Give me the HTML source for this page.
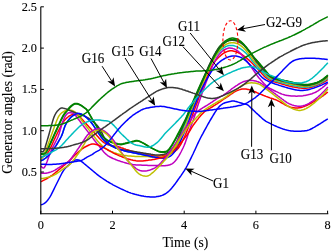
<!DOCTYPE html>
<html><head><meta charset="utf-8"><title>Generator angles</title>
<style>
html,body{margin:0;padding:0;background:#fff;}
body{width:332px;height:251px;overflow:hidden;}
svg{display:block;}
svg text{font-family:"Liberation Serif","DejaVu Serif",serif;font-size:12.3px;fill:#000;stroke:#000;stroke-width:0.1px;}
</style></head><body>
<svg width="332" height="251" viewBox="0 0 332 251">
<rect width="332" height="251" fill="#fff"/>
<g id="curves">
<path d="M41.0 204.7 L42.0 204.5 L43.0 204.1 L44.0 203.6 L45.0 202.9 L46.0 202.1 L47.0 201.0 L48.0 199.8 L49.0 198.4 L50.0 196.9 L51.0 195.2 L52.0 193.2 L53.0 191.1 L54.0 189.1 L55.0 187.0 L56.0 185.0 L57.0 183.0 L58.0 181.0 L59.0 179.0 L60.0 177.0 L61.0 175.0 L62.0 173.0 L63.0 171.3 L64.0 169.8 L65.0 168.6 L66.0 167.5 L67.0 166.6 L68.0 165.6 L69.0 164.7 L70.0 163.8 L71.0 162.9 L72.0 162.1 L73.0 161.3 L74.0 160.6 L75.0 160.1 L76.0 159.9 L77.0 159.8 L78.0 159.9 L79.0 160.1 L80.0 160.5 L81.0 161.1 L82.0 161.8 L83.0 162.6 L84.0 163.5 L85.0 164.3 L86.0 165.2 L87.0 166.0 L88.0 166.8 L89.0 167.7 L90.0 168.5 L91.0 169.3 L92.0 170.2 L93.0 171.0 L94.0 171.8 L95.0 172.7 L96.0 173.5 L97.0 174.3 L98.0 175.1 L99.0 175.9 L100.0 176.6 L101.0 177.3 L102.0 178.0 L103.0 178.7 L104.0 179.3 L105.0 180.0 L106.0 180.6 L107.0 181.3 L108.0 181.9 L109.0 182.5 L110.0 183.1 L111.0 183.7 L112.0 184.2 L113.0 184.8 L114.0 185.3 L115.0 185.8 L116.0 186.3 L117.0 186.8 L118.0 187.3 L119.0 187.8 L120.0 188.3 L121.0 188.8 L122.0 189.3 L123.0 189.7 L124.0 190.2 L125.0 190.6 L126.0 191.1 L127.0 191.5 L128.0 192.0 L129.0 192.4 L130.0 192.7 L131.0 193.1 L132.0 193.4 L133.0 193.7 L134.0 194.0 L135.0 194.3 L136.0 194.5 L137.0 194.8 L138.0 195.0 L139.0 195.3 L140.0 195.5 L141.0 195.7 L142.0 195.9 L143.0 196.1 L144.0 196.3 L145.0 196.4 L146.0 196.6 L147.0 196.7 L148.0 196.8 L149.0 196.8 L150.0 196.9 L151.0 197.0 L152.0 197.0 L153.0 197.0 L154.0 197.0 L155.0 196.9 L156.0 196.8 L157.0 196.6 L158.0 196.4 L159.0 196.2 L160.0 196.0 L161.0 195.7 L162.0 195.4 L163.0 195.0 L164.0 194.5 L165.0 194.0 L166.0 193.4 L167.0 192.7 L168.0 191.9 L169.0 191.0 L170.0 190.0 L171.0 188.9 L172.0 187.8 L173.0 186.6 L174.0 185.3 L175.0 184.0 L176.0 182.6 L177.0 181.2 L178.0 179.8 L179.0 178.4 L180.0 177.0 L181.0 175.6 L182.0 174.1 L183.0 172.6 L184.0 171.1 L185.0 169.5 L186.0 167.8 L187.0 166.0 L188.0 164.1 L189.0 162.1 L190.0 160.1 L191.0 158.1 L192.0 156.0 L193.0 154.0 L194.0 151.8 L195.0 149.7 L196.0 147.5 L197.0 145.3 L198.0 143.1 L199.0 141.0 L200.0 139.0 L201.0 137.0 L202.0 135.1 L203.0 133.3 L204.0 131.4 L205.0 129.6 L206.0 127.8 L207.0 126.0 L208.0 124.2 L209.0 122.5 L210.0 120.7 L211.0 119.0 L212.0 117.3 L213.0 115.7 L214.0 114.0 L215.0 112.4 L216.0 110.9 L217.0 109.4 L218.0 108.1 L219.0 106.9 L220.0 105.9 L221.0 105.0 L222.0 104.3 L223.0 103.7 L224.0 103.2 L225.0 102.8 L226.0 102.5 L227.0 102.2 L228.0 102.0 L229.0 101.8 L230.0 101.6 L231.0 101.3 L232.0 101.1 L233.0 101.0 L234.0 101.0 L235.0 101.3 L236.0 101.5 L237.0 101.8 L238.0 102.1 L239.0 102.4 L240.0 102.7 L241.0 103.0 L242.0 103.3 L243.0 103.6 L244.0 103.9 L245.0 104.1 L246.0 104.3 L247.0 104.6 L248.0 105.2 L249.0 106.0 L250.0 107.0 L251.0 108.0 L252.0 108.9 L253.0 109.9 L254.0 110.8 L255.0 111.7 L256.0 112.7 L257.0 113.6 L258.0 114.5 L259.0 115.4 L260.0 116.4 L261.0 117.3 L262.0 118.2 L263.0 119.1 L264.0 119.9 L265.0 120.6 L266.0 121.3 L267.0 121.9 L268.0 122.4 L269.0 122.9 L270.0 123.4 L271.0 123.9 L272.0 124.4 L273.0 124.8 L274.0 125.3 L275.0 125.8 L276.0 126.2 L277.0 126.7 L278.0 127.1 L279.0 127.5 L280.0 127.9 L281.0 128.3 L282.0 128.6 L283.0 129.0 L284.0 129.3 L285.0 129.6 L286.0 129.9 L287.0 130.1 L288.0 130.4 L289.0 130.6 L290.0 130.7 L291.0 130.9 L292.0 131.0 L293.0 131.1 L294.0 131.2 L295.0 131.2 L296.0 131.3 L297.0 131.3 L298.0 131.3 L299.0 131.2 L300.0 131.2 L301.0 131.2 L302.0 131.1 L303.0 131.1 L304.0 131.0 L305.0 130.8 L306.0 130.7 L307.0 130.5 L308.0 130.2 L309.0 129.9 L310.0 129.5 L311.0 129.0 L312.0 128.5 L313.0 127.9 L314.0 127.4 L315.0 126.8 L316.0 126.2 L317.0 125.6 L318.0 125.0 L319.0 124.4 L320.0 123.8 L321.0 123.2 L322.0 122.5 L323.0 121.9 L324.0 121.2 L325.0 120.6 L326.0 120.0 L327.0 119.3 L327.8 118.8" stroke="#0000ff" stroke-width="1.5" fill="none" stroke-linejoin="round"/>
<path d="M41.0 153.4 L42.0 153.5 L43.0 153.5 L44.0 153.2 L45.0 152.7 L46.0 151.7 L47.0 150.2 L48.0 148.1 L49.0 145.9 L50.0 143.7 L51.0 141.4 L52.0 139.2 L53.0 137.0 L54.0 134.8 L55.0 132.6 L56.0 130.4 L57.0 128.2 L58.0 126.0 L59.0 123.8 L60.0 121.7 L61.0 119.5 L62.0 117.5 L63.0 115.7 L64.0 114.1 L65.0 112.7 L66.0 111.4 L67.0 110.2 L68.0 109.1 L69.0 107.9 L70.0 106.9 L71.0 105.9 L72.0 105.0 L73.0 104.3 L74.0 103.8 L75.0 103.5 L76.0 103.4 L77.0 103.5 L78.0 103.8 L79.0 104.2 L80.0 104.7 L81.0 105.2 L82.0 105.9 L83.0 106.6 L84.0 107.3 L85.0 108.0 L86.0 108.8 L87.0 110.0 L88.0 111.6 L89.0 113.4 L90.0 115.2 L91.0 116.9 L92.0 118.6 L93.0 120.2 L94.0 121.8 L95.0 123.4 L96.0 125.1 L97.0 126.9 L98.0 128.8 L99.0 130.7 L100.0 132.5 L101.0 134.1 L102.0 135.4 L103.0 136.5 L104.0 137.5 L105.0 138.4 L106.0 139.2 L107.0 139.9 L108.0 140.5 L109.0 141.0 L110.0 141.4 L111.0 141.8 L112.0 142.2 L113.0 142.5 L114.0 142.8 L115.0 143.1 L116.0 143.3 L117.0 143.5 L118.0 143.8 L119.0 144.0 L120.0 144.1 L121.0 144.1 L122.0 144.0 L123.0 143.8 L124.0 143.5 L125.0 143.3 L126.0 143.0 L127.0 142.8 L128.0 142.5 L129.0 142.2 L130.0 142.0 L131.0 141.7 L132.0 141.5 L133.0 141.2 L134.0 141.0 L135.0 140.7 L136.0 140.5 L137.0 140.5 L138.0 140.7 L139.0 141.0 L140.0 141.3 L141.0 141.8 L142.0 142.3 L143.0 142.8 L144.0 143.4 L145.0 144.0 L146.0 144.6 L147.0 145.2 L148.0 145.8 L149.0 146.4 L150.0 147.0 L151.0 147.5 L152.0 148.1 L153.0 148.6 L154.0 149.1 L155.0 149.6 L156.0 150.1 L157.0 150.5 L158.0 151.0 L159.0 151.4 L160.0 151.6 L161.0 151.8 L162.0 151.8 L163.0 151.8 L164.0 151.8 L165.0 151.6 L166.0 151.4 L167.0 150.9 L168.0 150.1 L169.0 149.0 L170.0 147.6 L171.0 146.2 L172.0 144.6 L173.0 142.9 L174.0 141.2 L175.0 139.4 L176.0 137.5 L177.0 135.6 L178.0 133.7 L179.0 131.8 L180.0 129.9 L181.0 128.0 L182.0 126.1 L183.0 124.2 L184.0 122.2 L185.0 120.2 L186.0 118.0 L187.0 115.7 L188.0 113.3 L189.0 110.8 L190.0 108.4 L191.0 106.0 L192.0 103.7 L193.0 101.3 L194.0 99.0 L195.0 96.6 L196.0 94.3 L197.0 92.0 L198.0 89.7 L199.0 87.5 L200.0 85.3 L201.0 83.1 L202.0 80.9 L203.0 78.8 L204.0 76.6 L205.0 74.5 L206.0 72.3 L207.0 70.2 L208.0 68.0 L209.0 65.9 L210.0 63.8 L211.0 61.7 L212.0 59.7 L213.0 57.7 L214.0 55.7 L215.0 53.9 L216.0 52.0 L217.0 50.3 L218.0 48.7 L219.0 47.3 L220.0 46.0 L221.0 44.9 L222.0 43.8 L223.0 42.9 L224.0 42.0 L225.0 41.2 L226.0 40.5 L227.0 39.8 L228.0 39.3 L229.0 38.8 L230.0 38.4 L231.0 38.2 L232.0 38.1 L233.0 38.1 L234.0 38.2 L235.0 38.4 L236.0 38.7 L237.0 39.0 L238.0 39.5 L239.0 40.1 L240.0 40.8 L241.0 41.6 L242.0 42.5 L243.0 43.5 L244.0 44.5 L245.0 45.7 L246.0 46.8 L247.0 48.0 L248.0 49.3 L249.0 50.5 L250.0 51.8 L251.0 53.2 L252.0 54.8 L253.0 56.5 L254.0 57.9 L255.0 59.0 L256.0 59.9 L257.0 60.8 L258.0 61.7 L259.0 62.9 L260.0 64.1 L261.0 65.3 L262.0 66.4 L263.0 67.6 L264.0 68.8 L265.0 70.1 L266.0 71.3 L267.0 72.5 L268.0 73.6 L269.0 74.7 L270.0 75.6 L271.0 76.4 L272.0 77.0 L273.0 77.5 L274.0 77.9 L275.0 78.2 L276.0 78.5 L277.0 78.7 L278.0 79.0 L279.0 79.3 L280.0 79.5 L281.0 79.7 L282.0 80.0 L283.0 80.2 L284.0 80.4 L285.0 80.7 L286.0 80.9 L287.0 81.1 L288.0 81.3 L289.0 81.6 L290.0 81.8 L291.0 82.0 L292.0 82.2 L293.0 82.5 L294.0 82.7 L295.0 82.9 L296.0 83.1 L297.0 83.3 L298.0 83.4 L299.0 83.6 L300.0 83.8 L301.0 84.0 L302.0 84.2 L303.0 84.4 L304.0 84.5 L305.0 84.6 L306.0 84.6 L307.0 84.6 L308.0 84.5 L309.0 84.4 L310.0 84.2 L311.0 84.1 L312.0 83.8 L313.0 83.6 L314.0 83.3 L315.0 83.0 L316.0 82.7 L317.0 82.4 L318.0 82.0 L319.0 81.6 L320.0 81.0 L321.0 80.5 L322.0 79.8 L323.0 79.1 L324.0 78.3 L325.0 77.5 L326.0 76.7 L327.0 75.8 L327.8 75.0" stroke="#008000" stroke-width="1.5" fill="none" stroke-linejoin="round"/>
<path d="M41.0 157.6 L42.0 157.2 L43.0 156.8 L44.0 156.3 L45.0 155.6 L46.0 154.7 L47.0 153.7 L48.0 152.4 L49.0 150.9 L50.0 149.0 L51.0 146.9 L52.0 144.7 L53.0 142.5 L54.0 140.2 L55.0 138.1 L56.0 136.0 L57.0 133.9 L58.0 131.8 L59.0 129.8 L60.0 127.8 L61.0 125.9 L62.0 124.0 L63.0 122.3 L64.0 120.9 L65.0 119.7 L66.0 118.7 L67.0 117.8 L68.0 117.0 L69.0 116.2 L70.0 115.6 L71.0 115.1 L72.0 114.7 L73.0 114.5 L74.0 114.5 L75.0 114.5 L76.0 114.6 L77.0 114.9 L78.0 115.4 L79.0 116.0 L80.0 117.0 L81.0 118.1 L82.0 119.2 L83.0 120.3 L84.0 121.4 L85.0 122.5 L86.0 123.6 L87.0 124.7 L88.0 125.8 L89.0 126.9 L90.0 128.0 L91.0 129.1 L92.0 130.2 L93.0 131.3 L94.0 132.4 L95.0 133.5 L96.0 134.6 L97.0 135.7 L98.0 136.8 L99.0 137.9 L100.0 139.0 L101.0 140.0 L102.0 141.0 L103.0 141.8 L104.0 142.6 L105.0 143.2 L106.0 143.8 L107.0 144.3 L108.0 144.7 L109.0 145.1 L110.0 145.4 L111.0 145.7 L112.0 145.8 L113.0 146.0 L114.0 146.1 L115.0 146.2 L116.0 146.4 L117.0 146.5 L118.0 146.7 L119.0 147.0 L120.0 147.3 L121.0 147.7 L122.0 148.0 L123.0 148.3 L124.0 148.7 L125.0 149.0 L126.0 149.4 L127.0 149.7 L128.0 150.0 L129.0 150.3 L130.0 150.6 L131.0 151.0 L132.0 151.3 L133.0 151.6 L134.0 151.9 L135.0 152.2 L136.0 152.4 L137.0 152.7 L138.0 152.9 L139.0 153.2 L140.0 153.4 L141.0 153.6 L142.0 153.8 L143.0 153.9 L144.0 154.1 L145.0 154.3 L146.0 154.5 L147.0 154.7 L148.0 154.9 L149.0 155.0 L150.0 155.2 L151.0 155.4 L152.0 155.5 L153.0 155.7 L154.0 155.9 L155.0 156.0 L156.0 156.1 L157.0 156.2 L158.0 156.2 L159.0 156.1 L160.0 156.0 L161.0 155.9 L162.0 155.8 L163.0 155.6 L164.0 155.5 L165.0 155.3 L166.0 155.1 L167.0 154.8 L168.0 154.5 L169.0 154.2 L170.0 153.8 L171.0 153.4 L172.0 153.0 L173.0 152.5 L174.0 152.0 L175.0 151.3 L176.0 150.5 L177.0 149.6 L178.0 148.5 L179.0 147.2 L180.0 145.7 L181.0 144.0 L182.0 142.1 L183.0 140.0 L184.0 137.9 L185.0 135.7 L186.0 133.4 L187.0 130.9 L188.0 128.4 L189.0 125.6 L190.0 122.7 L191.0 119.7 L192.0 116.7 L193.0 113.8 L194.0 111.0 L195.0 108.3 L196.0 105.6 L197.0 102.9 L198.0 100.3 L199.0 97.6 L200.0 95.0 L201.0 92.4 L202.0 89.8 L203.0 87.2 L204.0 84.6 L205.0 82.1 L206.0 79.6 L207.0 77.1 L208.0 74.7 L209.0 72.3 L210.0 70.0 L211.0 67.8 L212.0 65.9 L213.0 64.2 L214.0 62.7 L215.0 61.4 L216.0 60.1 L217.0 59.0 L218.0 58.0 L219.0 57.0 L220.0 56.1 L221.0 55.2 L222.0 54.4 L223.0 53.7 L224.0 53.0 L225.0 52.5 L226.0 52.0 L227.0 51.6 L228.0 51.3 L229.0 51.0 L230.0 50.8 L231.0 50.8 L232.0 50.8 L233.0 51.0 L234.0 51.2 L235.0 51.4 L236.0 51.7 L237.0 52.1 L238.0 52.5 L239.0 53.0 L240.0 53.5 L241.0 54.0 L242.0 54.6 L243.0 55.3 L244.0 56.0 L245.0 56.8 L246.0 57.6 L247.0 58.4 L248.0 59.3 L249.0 60.1 L250.0 61.1 L251.0 62.0 L252.0 63.0 L253.0 64.0 L254.0 65.1 L255.0 66.1 L256.0 67.1 L257.0 68.2 L258.0 69.3 L259.0 70.4 L260.0 71.5 L261.0 72.6 L262.0 73.7 L263.0 74.8 L264.0 75.9 L265.0 76.9 L266.0 77.7 L267.0 78.5 L268.0 79.2 L269.0 79.8 L270.0 80.3 L271.0 80.7 L272.0 81.1 L273.0 81.5 L274.0 81.8 L275.0 82.1 L276.0 82.3 L277.0 82.6 L278.0 82.8 L279.0 83.1 L280.0 83.4 L281.0 83.7 L282.0 84.0 L283.0 84.3 L284.0 84.6 L285.0 84.9 L286.0 85.2 L287.0 85.5 L288.0 85.7 L289.0 86.0 L290.0 86.2 L291.0 86.5 L292.0 86.7 L293.0 86.9 L294.0 87.1 L295.0 87.3 L296.0 87.5 L297.0 87.6 L298.0 87.8 L299.0 87.9 L300.0 88.0 L301.0 88.1 L302.0 88.2 L303.0 88.3 L304.0 88.3 L305.0 88.3 L306.0 88.2 L307.0 88.1 L308.0 87.9 L309.0 87.8 L310.0 87.5 L311.0 87.3 L312.0 87.0 L313.0 86.7 L314.0 86.4 L315.0 86.0 L316.0 85.7 L317.0 85.3 L318.0 84.9 L319.0 84.5 L320.0 84.0 L321.0 83.6 L322.0 83.1 L323.0 82.5 L324.0 82.0 L325.0 81.4 L326.0 80.8 L327.0 80.1 L327.8 79.5" stroke="#ff0000" stroke-width="1.5" fill="none" stroke-linejoin="round"/>
<path d="M41.0 160.7 L42.0 160.3 L43.0 159.8 L44.0 159.2 L45.0 158.5 L46.0 157.8 L47.0 156.9 L48.0 156.0 L49.0 155.0 L50.0 153.8 L51.0 152.6 L52.0 151.3 L53.0 150.0 L54.0 148.6 L55.0 147.1 L56.0 145.6 L57.0 144.0 L58.0 142.4 L59.0 140.6 L60.0 138.8 L61.0 137.0 L62.0 134.9 L63.0 131.9 L64.0 128.7 L65.0 125.9 L66.0 124.0 L67.0 122.2 L68.0 120.7 L69.0 119.4 L70.0 118.2 L71.0 117.2 L72.0 116.4 L73.0 115.7 L74.0 115.0 L75.0 114.4 L76.0 114.0 L77.0 113.6 L78.0 113.5 L79.0 113.5 L80.0 113.7 L81.0 114.0 L82.0 114.4 L83.0 114.9 L84.0 115.5 L85.0 116.3 L86.0 117.1 L87.0 118.0 L88.0 119.0 L89.0 120.0 L90.0 121.1 L91.0 122.2 L92.0 123.5 L93.0 124.9 L94.0 126.4 L95.0 127.9 L96.0 129.4 L97.0 130.9 L98.0 132.4 L99.0 133.9 L100.0 135.3 L101.0 136.7 L102.0 138.0 L103.0 139.2 L104.0 140.3 L105.0 141.2 L106.0 142.1 L107.0 142.9 L108.0 143.6 L109.0 144.3 L110.0 144.9 L111.0 145.5 L112.0 146.0 L113.0 146.5 L114.0 147.0 L115.0 147.5 L116.0 148.0 L117.0 148.4 L118.0 148.8 L119.0 149.2 L120.0 149.5 L121.0 149.8 L122.0 150.1 L123.0 150.4 L124.0 150.7 L125.0 151.0 L126.0 151.3 L127.0 151.5 L128.0 151.8 L129.0 151.9 L130.0 152.1 L131.0 152.3 L132.0 152.5 L133.0 152.7 L134.0 152.9 L135.0 153.1 L136.0 153.3 L137.0 153.5 L138.0 153.7 L139.0 153.9 L140.0 154.1 L141.0 154.3 L142.0 154.6 L143.0 154.8 L144.0 155.0 L145.0 155.2 L146.0 155.4 L147.0 155.6 L148.0 155.8 L149.0 156.0 L150.0 156.2 L151.0 156.5 L152.0 156.7 L153.0 156.9 L154.0 157.1 L155.0 157.3 L156.0 157.5 L157.0 157.6 L158.0 157.7 L159.0 157.8 L160.0 157.9 L161.0 158.1 L162.0 158.2 L163.0 158.3 L164.0 158.4 L165.0 158.3 L166.0 158.0 L167.0 157.5 L168.0 156.3 L169.0 154.4 L170.0 152.3 L171.0 150.5 L172.0 149.1 L173.0 148.0 L174.0 146.9 L175.0 145.8 L176.0 144.6 L177.0 143.1 L178.0 141.1 L179.0 138.8 L180.0 136.3 L181.0 133.9 L182.0 131.4 L183.0 129.0 L184.0 126.5 L185.0 124.0 L186.0 121.6 L187.0 119.1 L188.0 116.6 L189.0 114.2 L190.0 111.7 L191.0 109.3 L192.0 107.0 L193.0 104.6 L194.0 102.3 L195.0 100.1 L196.0 97.8 L197.0 95.5 L198.0 93.1 L199.0 90.8 L200.0 88.5 L201.0 86.2 L202.0 83.9 L203.0 81.6 L204.0 79.3 L205.0 77.0 L206.0 74.7 L207.0 72.4 L208.0 70.1 L209.0 67.9 L210.0 65.8 L211.0 63.8 L212.0 62.0 L213.0 60.3 L214.0 58.8 L215.0 57.3 L216.0 55.9 L217.0 54.5 L218.0 53.2 L219.0 52.0 L220.0 50.9 L221.0 49.9 L222.0 49.1 L223.0 48.3 L224.0 47.6 L225.0 47.0 L226.0 46.5 L227.0 46.1 L228.0 45.7 L229.0 45.5 L230.0 45.4 L231.0 45.4 L232.0 45.5 L233.0 45.6 L234.0 45.8 L235.0 46.1 L236.0 46.4 L237.0 46.8 L238.0 47.3 L239.0 47.9 L240.0 48.5 L241.0 49.2 L242.0 49.9 L243.0 50.7 L244.0 51.5 L245.0 52.4 L246.0 53.3 L247.0 54.3 L248.0 55.4 L249.0 56.5 L250.0 57.8 L251.0 59.1 L252.0 60.5 L253.0 61.8 L254.0 62.8 L255.0 63.9 L256.0 65.0 L257.0 66.0 L258.0 67.1 L259.0 68.2 L260.0 69.4 L261.0 70.5 L262.0 71.6 L263.0 72.7 L264.0 73.8 L265.0 74.9 L266.0 75.9 L267.0 76.8 L268.0 77.6 L269.0 78.3 L270.0 78.9 L271.0 79.4 L272.0 79.9 L273.0 80.2 L274.0 80.6 L275.0 80.9 L276.0 81.2 L277.0 81.4 L278.0 81.7 L279.0 81.9 L280.0 82.2 L281.0 82.5 L282.0 82.8 L283.0 83.1 L284.0 83.3 L285.0 83.6 L286.0 83.9 L287.0 84.1 L288.0 84.4 L289.0 84.6 L290.0 84.9 L291.0 85.1 L292.0 85.3 L293.0 85.5 L294.0 85.7 L295.0 85.9 L296.0 86.1 L297.0 86.3 L298.0 86.4 L299.0 86.6 L300.0 86.7 L301.0 86.9 L302.0 87.0 L303.0 87.1 L304.0 87.1 L305.0 87.2 L306.0 87.1 L307.0 87.0 L308.0 86.9 L309.0 86.7 L310.0 86.5 L311.0 86.3 L312.0 86.1 L313.0 85.8 L314.0 85.5 L315.0 85.1 L316.0 84.8 L317.0 84.4 L318.0 84.0 L319.0 83.6 L320.0 83.1 L321.0 82.6 L322.0 82.1 L323.0 81.5 L324.0 80.9 L325.0 80.2 L326.0 79.5 L327.0 78.8 L327.8 78.2" stroke="#00bfbf" stroke-width="1.5" fill="none" stroke-linejoin="round"/>
<path d="M41.0 166.0 L42.0 167.3 L43.0 168.0 L44.0 167.9 L45.0 166.5 L46.0 164.2 L47.0 161.7 L48.0 159.0 L49.0 156.3 L50.0 153.6 L51.0 151.1 L52.0 148.8 L53.0 146.7 L54.0 144.8 L55.0 142.9 L56.0 141.0 L57.0 139.0 L58.0 136.8 L59.0 134.0 L60.0 130.7 L61.0 127.2 L62.0 123.8 L63.0 121.0 L64.0 118.7 L65.0 116.7 L66.0 115.1 L67.0 113.9 L68.0 113.1 L69.0 112.7 L70.0 112.6 L71.0 112.7 L72.0 112.9 L73.0 113.3 L74.0 113.9 L75.0 114.8 L76.0 116.0 L77.0 117.3 L78.0 118.7 L79.0 120.0 L80.0 121.3 L81.0 122.7 L82.0 124.0 L83.0 125.4 L84.0 126.7 L85.0 128.0 L86.0 129.3 L87.0 130.6 L88.0 131.9 L89.0 133.2 L90.0 134.5 L91.0 135.8 L92.0 137.1 L93.0 138.4 L94.0 139.7 L95.0 141.0 L96.0 142.3 L97.0 143.6 L98.0 144.8 L99.0 146.1 L100.0 147.3 L101.0 148.6 L102.0 149.8 L103.0 151.0 L104.0 152.2 L105.0 153.2 L106.0 154.2 L107.0 155.0 L108.0 155.8 L109.0 156.4 L110.0 157.0 L111.0 157.5 L112.0 158.0 L113.0 158.5 L114.0 158.9 L115.0 159.3 L116.0 159.7 L117.0 160.1 L118.0 160.5 L119.0 160.8 L120.0 161.1 L121.0 161.5 L122.0 161.8 L123.0 162.1 L124.0 162.4 L125.0 162.7 L126.0 163.0 L127.0 163.3 L128.0 163.5 L129.0 163.7 L130.0 164.0 L131.0 164.2 L132.0 164.4 L133.0 164.6 L134.0 164.7 L135.0 164.8 L136.0 164.9 L137.0 165.0 L138.0 165.0 L139.0 165.1 L140.0 165.1 L141.0 165.1 L142.0 165.2 L143.0 165.2 L144.0 165.2 L145.0 165.3 L146.0 165.3 L147.0 165.3 L148.0 165.4 L149.0 165.4 L150.0 165.4 L151.0 165.4 L152.0 165.5 L153.0 165.5 L154.0 165.5 L155.0 165.6 L156.0 165.6 L157.0 165.6 L158.0 165.6 L159.0 165.7 L160.0 165.7 L161.0 165.7 L162.0 165.7 L163.0 165.8 L164.0 165.8 L165.0 165.8 L166.0 165.6 L167.0 165.5 L168.0 165.3 L169.0 165.1 L170.0 164.7 L171.0 164.3 L172.0 163.8 L173.0 163.2 L174.0 162.3 L175.0 161.3 L176.0 160.1 L177.0 158.7 L178.0 157.2 L179.0 155.6 L180.0 153.8 L181.0 152.0 L182.0 150.0 L183.0 148.0 L184.0 145.8 L185.0 143.4 L186.0 140.6 L187.0 137.7 L188.0 134.6 L189.0 131.6 L190.0 128.8 L191.0 126.1 L192.0 123.5 L193.0 120.8 L194.0 118.0 L195.0 114.9 L196.0 111.5 L197.0 108.1 L198.0 105.0 L199.0 102.1 L200.0 99.2 L201.0 96.4 L202.0 93.6 L203.0 90.8 L204.0 88.1 L205.0 85.3 L206.0 82.6 L207.0 79.9 L208.0 77.3 L209.0 74.6 L210.0 72.0 L211.0 69.5 L212.0 67.1 L213.0 64.9 L214.0 62.8 L215.0 60.9 L216.0 59.2 L217.0 57.5 L218.0 56.0 L219.0 54.6 L220.0 53.4 L221.0 52.4 L222.0 51.5 L223.0 50.7 L224.0 50.1 L225.0 49.5 L226.0 49.0 L227.0 48.6 L228.0 48.3 L229.0 48.1 L230.0 48.1 L231.0 48.2 L232.0 48.3 L233.0 48.6 L234.0 48.9 L235.0 49.3 L236.0 49.9 L237.0 50.5 L238.0 51.2 L239.0 52.0 L240.0 52.9 L241.0 54.0 L242.0 55.2 L243.0 56.4 L244.0 57.6 L245.0 58.8 L246.0 60.1 L247.0 61.3 L248.0 62.7 L249.0 64.0 L250.0 65.3 L251.0 66.7 L252.0 68.1 L253.0 69.6 L254.0 71.0 L255.0 72.5 L256.0 74.0 L257.0 75.4 L258.0 76.7 L259.0 78.0 L260.0 79.1 L261.0 80.2 L262.0 81.3 L263.0 82.4 L264.0 83.5 L265.0 84.5 L266.0 85.5 L267.0 86.5 L268.0 87.3 L269.0 87.9 L270.0 88.5 L271.0 89.0 L272.0 89.5 L273.0 90.0 L274.0 90.5 L275.0 91.0 L276.0 91.5 L277.0 91.9 L278.0 92.4 L279.0 92.9 L280.0 93.3 L281.0 93.7 L282.0 94.1 L283.0 94.4 L284.0 94.7 L285.0 95.0 L286.0 95.2 L287.0 95.4 L288.0 95.5 L289.0 95.7 L290.0 95.8 L291.0 95.9 L292.0 96.0 L293.0 96.1 L294.0 96.1 L295.0 96.1 L296.0 96.2 L297.0 96.2 L298.0 96.1 L299.0 96.1 L300.0 96.0 L301.0 96.0 L302.0 95.9 L303.0 95.8 L304.0 95.6 L305.0 95.5 L306.0 95.3 L307.0 95.1 L308.0 94.8 L309.0 94.6 L310.0 94.3 L311.0 94.0 L312.0 93.7 L313.0 93.3 L314.0 92.9 L315.0 92.5 L316.0 92.0 L317.0 91.4 L318.0 90.8 L319.0 90.1 L320.0 89.4 L321.0 88.7 L322.0 88.0 L323.0 87.2 L324.0 86.4 L325.0 85.5 L326.0 84.7 L327.0 83.8 L327.8 83.0" stroke="#bf00bf" stroke-width="1.5" fill="none" stroke-linejoin="round"/>
<path d="M41.0 160.0 L42.0 158.3 L43.0 156.5 L44.0 154.6 L45.0 152.5 L46.0 150.1 L47.0 147.4 L48.0 144.6 L49.0 141.8 L50.0 138.9 L51.0 136.2 L52.0 133.4 L53.0 130.7 L54.0 128.0 L55.0 125.3 L56.0 122.6 L57.0 120.0 L58.0 117.7 L59.0 115.9 L60.0 114.6 L61.0 113.5 L62.0 112.7 L63.0 112.0 L64.0 111.4 L65.0 110.8 L66.0 110.4 L67.0 110.1 L68.0 109.9 L69.0 109.9 L70.0 110.0 L71.0 110.2 L72.0 110.5 L73.0 110.8 L74.0 111.3 L75.0 112.0 L76.0 112.8 L77.0 114.0 L78.0 115.3 L79.0 116.6 L80.0 118.0 L81.0 119.3 L82.0 120.7 L83.0 122.0 L84.0 123.4 L85.0 124.7 L86.0 126.0 L87.0 127.3 L88.0 128.6 L89.0 129.9 L90.0 131.2 L91.0 132.5 L92.0 133.8 L93.0 135.1 L94.0 136.4 L95.0 137.7 L96.0 139.0 L97.0 140.2 L98.0 141.4 L99.0 142.6 L100.0 143.6 L101.0 144.6 L102.0 145.6 L103.0 146.4 L104.0 147.2 L105.0 148.0 L106.0 148.7 L107.0 149.4 L108.0 150.0 L109.0 150.5 L110.0 151.0 L111.0 151.5 L112.0 151.9 L113.0 152.3 L114.0 152.7 L115.0 153.0 L116.0 153.3 L117.0 153.6 L118.0 153.9 L119.0 154.2 L120.0 154.5 L121.0 154.7 L122.0 155.0 L123.0 155.2 L124.0 155.4 L125.0 155.5 L126.0 155.6 L127.0 155.7 L128.0 155.9 L129.0 156.0 L130.0 156.1 L131.0 156.1 L132.0 156.2 L133.0 156.3 L134.0 156.3 L135.0 156.4 L136.0 156.4 L137.0 156.4 L138.0 156.4 L139.0 156.4 L140.0 156.4 L141.0 156.4 L142.0 156.4 L143.0 156.4 L144.0 156.4 L145.0 156.5 L146.0 156.5 L147.0 156.6 L148.0 156.6 L149.0 156.7 L150.0 156.9 L151.0 157.0 L152.0 157.1 L153.0 157.2 L154.0 157.3 L155.0 157.4 L156.0 157.5 L157.0 157.5 L158.0 157.5 L159.0 157.4 L160.0 157.2 L161.0 157.1 L162.0 156.9 L163.0 156.7 L164.0 156.5 L165.0 156.3 L166.0 156.0 L167.0 155.6 L168.0 155.2 L169.0 154.7 L170.0 154.2 L171.0 153.5 L172.0 152.7 L173.0 151.6 L174.0 150.2 L175.0 148.7 L176.0 147.0 L177.0 145.2 L178.0 143.2 L179.0 141.1 L180.0 138.9 L181.0 136.5 L182.0 134.2 L183.0 131.9 L184.0 129.5 L185.0 127.0 L186.0 124.5 L187.0 121.9 L188.0 119.3 L189.0 116.7 L190.0 114.2 L191.0 111.7 L192.0 109.3 L193.0 106.9 L194.0 104.5 L195.0 102.2 L196.0 99.8 L197.0 97.4 L198.0 95.0 L199.0 92.6 L200.0 90.2 L201.0 87.8 L202.0 85.5 L203.0 83.1 L204.0 80.7 L205.0 78.3 L206.0 75.9 L207.0 73.6 L208.0 71.2 L209.0 68.8 L210.0 66.6 L211.0 64.5 L212.0 62.5 L213.0 60.6 L214.0 58.8 L215.0 57.0 L216.0 55.3 L217.0 53.7 L218.0 52.2 L219.0 50.8 L220.0 49.5 L221.0 48.4 L222.0 47.4 L223.0 46.5 L224.0 45.7 L225.0 45.0 L226.0 44.4 L227.0 43.9 L228.0 43.5 L229.0 43.1 L230.0 42.9 L231.0 42.7 L232.0 42.7 L233.0 42.7 L234.0 42.8 L235.0 43.0 L236.0 43.2 L237.0 43.5 L238.0 43.9 L239.0 44.5 L240.0 45.1 L241.0 45.8 L242.0 46.6 L243.0 47.5 L244.0 48.4 L245.0 49.5 L246.0 50.6 L247.0 51.8 L248.0 53.0 L249.0 54.2 L250.0 55.5 L251.0 56.8 L252.0 58.2 L253.0 59.6 L254.0 60.9 L255.0 62.1 L256.0 63.2 L257.0 64.3 L258.0 65.4 L259.0 66.5 L260.0 67.7 L261.0 68.8 L262.0 70.0 L263.0 71.1 L264.0 72.3 L265.0 73.4 L266.0 74.5 L267.0 75.5 L268.0 76.4 L269.0 77.1 L270.0 77.8 L271.0 78.3 L272.0 78.8 L273.0 79.2 L274.0 79.6 L275.0 79.9 L276.0 80.2 L277.0 80.5 L278.0 80.8 L279.0 81.0 L280.0 81.3 L281.0 81.6 L282.0 81.8 L283.0 82.1 L284.0 82.4 L285.0 82.6 L286.0 82.9 L287.0 83.1 L288.0 83.4 L289.0 83.6 L290.0 83.8 L291.0 84.1 L292.0 84.3 L293.0 84.5 L294.0 84.7 L295.0 84.9 L296.0 85.1 L297.0 85.3 L298.0 85.4 L299.0 85.6 L300.0 85.7 L301.0 85.9 L302.0 86.0 L303.0 86.2 L304.0 86.3 L305.0 86.3 L306.0 86.3 L307.0 86.2 L308.0 86.1 L309.0 86.0 L310.0 85.8 L311.0 85.6 L312.0 85.3 L313.0 85.0 L314.0 84.7 L315.0 84.4 L316.0 84.1 L317.0 83.7 L318.0 83.3 L319.0 82.9 L320.0 82.4 L321.0 81.9 L322.0 81.3 L323.0 80.7 L324.0 80.0 L325.0 79.3 L326.0 78.6 L327.0 77.8 L327.8 77.1" stroke="#bfbf00" stroke-width="1.5" fill="none" stroke-linejoin="round"/>
<path d="M41.0 151.0 L42.0 151.7 L43.0 151.7 L44.0 150.5 L45.0 147.7 L46.0 144.5 L47.0 141.1 L48.0 137.7 L49.0 134.2 L50.0 130.6 L51.0 127.0 L52.0 123.4 L53.0 120.0 L54.0 117.1 L55.0 114.8 L56.0 113.0 L57.0 111.6 L58.0 110.5 L59.0 109.5 L60.0 108.7 L61.0 108.1 L62.0 108.0 L63.0 108.1 L64.0 108.4 L65.0 108.6 L66.0 108.9 L67.0 109.3 L68.0 109.7 L69.0 110.1 L70.0 110.6 L71.0 111.0 L72.0 111.4 L73.0 111.8 L74.0 112.2 L75.0 112.5 L76.0 112.9 L77.0 113.2 L78.0 113.6 L79.0 113.9 L80.0 114.3 L81.0 114.7 L82.0 115.1 L83.0 115.5 L84.0 115.9 L85.0 116.4 L86.0 116.9 L87.0 117.3 L88.0 117.9 L89.0 118.5 L90.0 119.2 L91.0 120.0 L92.0 120.8 L93.0 121.6 L94.0 122.4 L95.0 123.3 L96.0 124.3 L97.0 125.3 L98.0 126.5 L99.0 127.9 L100.0 129.4 L101.0 131.0 L102.0 132.9 L103.0 135.0 L104.0 137.2 L105.0 139.0 L106.0 140.4 L107.0 141.7 L108.0 142.8 L109.0 143.7 L110.0 144.5 L111.0 145.2 L112.0 145.9 L113.0 146.5 L114.0 147.1 L115.0 147.6 L116.0 148.0 L117.0 148.4 L118.0 148.7 L119.0 149.1 L120.0 149.4 L121.0 149.6 L122.0 149.8 L123.0 150.0 L124.0 150.1 L125.0 150.2 L126.0 150.4 L127.0 150.5 L128.0 150.6 L129.0 150.8 L130.0 150.9 L131.0 151.0 L132.0 151.2 L133.0 151.3 L134.0 151.5 L135.0 151.7 L136.0 151.8 L137.0 152.0 L138.0 152.2 L139.0 152.3 L140.0 152.5 L141.0 152.7 L142.0 152.8 L143.0 153.0 L144.0 153.2 L145.0 153.3 L146.0 153.5 L147.0 153.7 L148.0 153.8 L149.0 154.0 L150.0 154.1 L151.0 154.3 L152.0 154.4 L153.0 154.6 L154.0 154.7 L155.0 154.9 L156.0 155.0 L157.0 155.1 L158.0 155.1 L159.0 155.1 L160.0 155.0 L161.0 154.8 L162.0 154.7 L163.0 154.5 L164.0 154.3 L165.0 154.0 L166.0 153.7 L167.0 153.1 L168.0 152.5 L169.0 151.8 L170.0 151.0 L171.0 150.1 L172.0 149.1 L173.0 147.9 L174.0 146.6 L175.0 145.0 L176.0 143.2 L177.0 141.2 L178.0 138.8 L179.0 136.3 L180.0 133.8 L181.0 131.2 L182.0 128.7 L183.0 126.3 L184.0 123.9 L185.0 121.5 L186.0 119.1 L187.0 116.7 L188.0 114.3 L189.0 111.9 L190.0 109.6 L191.0 107.3 L192.0 105.1 L193.0 102.9 L194.0 100.6 L195.0 98.4 L196.0 96.1 L197.0 93.9 L198.0 91.5 L199.0 89.2 L200.0 86.8 L201.0 84.4 L202.0 82.1 L203.0 79.7 L204.0 77.3 L205.0 74.9 L206.0 72.5 L207.0 70.2 L208.0 67.8 L209.0 65.6 L210.0 63.5 L211.0 61.4 L212.0 59.4 L213.0 57.5 L214.0 55.6 L215.0 53.9 L216.0 52.2 L217.0 50.6 L218.0 49.2 L219.0 47.9 L220.0 46.7 L221.0 45.7 L222.0 44.7 L223.0 43.9 L224.0 43.2 L225.0 42.5 L226.0 41.9 L227.0 41.4 L228.0 41.0 L229.0 40.6 L230.0 40.4 L231.0 40.2 L232.0 40.2 L233.0 40.2 L234.0 40.4 L235.0 40.5 L236.0 40.8 L237.0 41.1 L238.0 41.5 L239.0 42.0 L240.0 42.6 L241.0 43.2 L242.0 43.8 L243.0 44.6 L244.0 45.5 L245.0 46.5 L246.0 47.6 L247.0 48.7 L248.0 49.9 L249.0 51.2 L250.0 52.5 L251.0 53.9 L252.0 55.4 L253.0 56.9 L254.0 58.4 L255.0 59.9 L256.0 61.2 L257.0 62.5 L258.0 63.6 L259.0 64.8 L260.0 65.9 L261.0 67.1 L262.0 68.2 L263.0 69.4 L264.0 70.6 L265.0 71.8 L266.0 72.9 L267.0 74.1 L268.0 75.1 L269.0 76.0 L270.0 76.7 L271.0 77.3 L272.0 77.8 L273.0 78.3 L274.0 78.7 L275.0 79.0 L276.0 79.4 L277.0 79.6 L278.0 79.9 L279.0 80.1 L280.0 80.4 L281.0 80.7 L282.0 80.9 L283.0 81.2 L284.0 81.4 L285.0 81.6 L286.0 81.9 L287.0 82.1 L288.0 82.4 L289.0 82.6 L290.0 82.8 L291.0 83.0 L292.0 83.3 L293.0 83.5 L294.0 83.7 L295.0 83.9 L296.0 84.1 L297.0 84.3 L298.0 84.4 L299.0 84.6 L300.0 84.8 L301.0 84.9 L302.0 85.1 L303.0 85.3 L304.0 85.4 L305.0 85.4 L306.0 85.4 L307.0 85.4 L308.0 85.3 L309.0 85.2 L310.0 85.0 L311.0 84.8 L312.0 84.6 L313.0 84.3 L314.0 84.0 L315.0 83.7 L316.0 83.4 L317.0 83.0 L318.0 82.7 L319.0 82.2 L320.0 81.7 L321.0 81.2 L322.0 80.6 L323.0 79.9 L324.0 79.2 L325.0 78.4 L326.0 77.6 L327.0 76.8 L327.8 76.0" stroke="#383838" stroke-width="1.5" fill="none" stroke-linejoin="round"/>
<path d="M41.0 160.7 L42.0 160.3 L43.0 159.8 L44.0 159.2 L45.0 158.5 L46.0 157.8 L47.0 156.9 L48.0 156.0 L49.0 155.0 L50.0 153.8 L51.0 152.6 L52.0 151.3 L53.0 150.0 L54.0 148.6 L55.0 147.1 L56.0 145.6 L57.0 144.0 L58.0 142.4 L59.0 140.6 L60.0 138.8 L61.0 137.0 L62.0 134.9 L63.0 131.9 L64.0 128.7 L65.0 125.9 L66.0 124.0 L67.0 122.2 L68.0 120.7 L69.0 119.4 L70.0 118.2 L71.0 117.2 L72.0 116.4 L73.0 115.7 L74.0 115.0 L75.0 114.4 L76.0 114.0 L77.0 113.6 L78.0 113.5 L79.0 113.5 L80.0 113.7 L81.0 114.0 L82.0 114.4 L83.0 114.9 L84.0 115.5 L85.0 116.3 L86.0 117.1 L87.0 118.0 L88.0 119.0 L89.0 120.0 L90.0 121.1 L91.0 122.2 L92.0 123.5 L93.0 124.9 L94.0 126.4 L95.0 127.9 L96.0 129.4 L97.0 130.9 L98.0 132.4 L99.0 133.9 L100.0 135.3 L101.0 136.7 L102.0 138.0 L103.0 139.2 L104.0 140.3 L105.0 141.2 L106.0 142.1 L107.0 142.9 L108.0 143.6 L109.0 144.3 L110.0 144.9 L111.0 145.5 L112.0 146.0 L113.0 146.5 L114.0 147.0 L115.0 147.5 L116.0 148.0 L117.0 148.4 L118.0 148.8 L119.0 149.2 L120.0 149.5 L121.0 149.8 L122.0 150.1 L123.0 150.4 L124.0 150.7 L125.0 151.0 L126.0 151.3 L127.0 151.5 L128.0 151.8 L129.0 151.9 L130.0 152.1 L131.0 152.3 L132.0 152.5 L133.0 152.7 L134.0 152.9 L135.0 153.1 L136.0 153.3 L137.0 153.5 L138.0 153.7 L139.0 153.9 L140.0 154.1 L141.0 154.3 L142.0 154.6 L143.0 154.8 L144.0 155.0 L145.0 155.2 L146.0 155.4 L147.0 155.6 L148.0 155.8 L149.0 156.0 L150.0 156.2 L151.0 156.5 L152.0 156.7 L153.0 156.9 L154.0 157.1 L155.0 157.3 L156.0 157.5 L157.0 157.6 L158.0 157.7 L159.0 157.8 L160.0 157.9 L161.0 158.0 L162.0 158.1 L163.0 158.0 L164.0 158.0 L165.0 157.8 L166.0 157.7 L167.0 157.5 L168.0 157.2 L169.0 156.8 L170.0 156.3 L171.0 155.6 L172.0 154.7 L173.0 153.7 L174.0 152.5 L175.0 151.1 L176.0 149.6 L177.0 148.0 L178.0 146.2 L179.0 144.2 L180.0 142.2 L181.0 140.0 L182.0 137.8 L183.0 135.5 L184.0 133.2 L185.0 130.8 L186.0 128.3 L187.0 125.7 L188.0 123.0 L189.0 120.4 L190.0 117.7 L191.0 115.0 L192.0 112.3 L193.0 109.7 L194.0 107.2 L195.0 104.6 L196.0 102.2 L197.0 99.7 L198.0 97.4 L199.0 95.0 L200.0 92.7 L201.0 90.5 L202.0 88.4 L203.0 86.3 L204.0 84.4 L205.0 82.5 L206.0 80.6 L207.0 78.8 L208.0 77.1 L209.0 75.4 L210.0 73.8 L211.0 72.2 L212.0 70.7 L213.0 69.3 L214.0 67.9 L215.0 66.6 L216.0 65.5 L217.0 64.4 L218.0 63.4 L219.0 62.5 L220.0 61.7 L221.0 60.9 L222.0 60.2 L223.0 59.6 L224.0 59.0 L225.0 58.4 L226.0 57.9 L227.0 57.5 L228.0 57.1 L229.0 56.7 L230.0 56.4 L231.0 56.2 L232.0 56.0 L233.0 56.0 L234.0 56.0 L235.0 56.0 L236.0 56.1 L237.0 56.3 L238.0 56.5 L239.0 56.7 L240.0 57.1 L241.0 57.5 L242.0 58.0 L243.0 58.7 L244.0 59.4 L245.0 60.2 L246.0 61.0 L247.0 61.8 L248.0 62.7 L249.0 63.7 L250.0 64.7 L251.0 65.7 L252.0 66.7 L253.0 67.7 L254.0 68.7 L255.0 69.7 L256.0 70.8 L257.0 71.8 L258.0 72.9 L259.0 74.1 L260.0 75.2 L261.0 76.3 L262.0 77.3 L263.0 78.1 L264.0 78.9 L265.0 79.5 L266.0 80.1 L267.0 80.6 L268.0 81.1 L269.0 81.6 L270.0 82.0 L271.0 82.4 L272.0 82.8 L273.0 83.2 L274.0 83.6 L275.0 84.0 L276.0 84.3 L277.0 84.6 L278.0 84.9 L279.0 85.3 L280.0 85.6 L281.0 85.9 L282.0 86.2 L283.0 86.5 L284.0 86.8 L285.0 87.1 L286.0 87.4 L287.0 87.7 L288.0 88.0 L289.0 88.2 L290.0 88.5 L291.0 88.8 L292.0 89.1 L293.0 89.3 L294.0 89.5 L295.0 89.7 L296.0 89.9 L297.0 90.1 L298.0 90.2 L299.0 90.3 L300.0 90.4 L301.0 90.4 L302.0 90.4 L303.0 90.4 L304.0 90.3 L305.0 90.2 L306.0 90.1 L307.0 89.9 L308.0 89.7 L309.0 89.5 L310.0 89.2 L311.0 88.9 L312.0 88.6 L313.0 88.3 L314.0 88.0 L315.0 87.6 L316.0 87.3 L317.0 86.9 L318.0 86.5 L319.0 86.1 L320.0 85.7 L321.0 85.3 L322.0 84.9 L323.0 84.4 L324.0 83.9 L325.0 83.5 L326.0 83.0 L327.0 82.4 L327.8 82.0" stroke="#0000ff" stroke-width="1.5" fill="none" stroke-linejoin="round"/>
<path d="M41.0 154.2 L42.0 154.3 L43.0 154.2 L44.0 154.0 L45.0 153.5 L46.0 152.6 L47.0 151.2 L48.0 149.3 L49.0 147.1 L50.0 144.8 L51.0 142.6 L52.0 140.4 L53.0 138.2 L54.0 136.0 L55.0 133.8 L56.0 131.6 L57.0 129.4 L58.0 127.2 L59.0 125.0 L60.0 122.8 L61.0 120.6 L62.0 118.6 L63.0 116.7 L64.0 115.1 L65.0 113.6 L66.0 112.3 L67.0 111.1 L68.0 109.9 L69.0 108.8 L70.0 107.7 L71.0 106.7 L72.0 105.8 L73.0 105.0 L74.0 104.4 L75.0 104.0 L76.0 103.9 L77.0 103.9 L78.0 104.2 L79.0 104.5 L80.0 105.0 L81.0 105.6 L82.0 106.2 L83.0 106.9 L84.0 107.6 L85.0 108.3 L86.0 109.0 L87.0 110.1 L88.0 111.6 L89.0 113.4 L90.0 115.1 L91.0 116.9 L92.0 118.6 L93.0 120.2 L94.0 121.8 L95.0 123.5 L96.0 125.1 L97.0 126.9 L98.0 128.8 L99.0 130.7 L100.0 132.5 L101.0 134.1 L102.0 135.5 L103.0 136.7 L104.0 137.7 L105.0 138.6 L106.0 139.5 L107.0 140.2 L108.0 140.8 L109.0 141.4 L110.0 141.8 L111.0 142.2 L112.0 142.6 L113.0 142.9 L114.0 143.2 L115.0 143.5 L116.0 143.7 L117.0 144.0 L118.0 144.2 L119.0 144.4 L120.0 144.6 L121.0 144.7 L122.0 144.6 L123.0 144.3 L124.0 144.1 L125.0 143.8 L126.0 143.6 L127.0 143.3 L128.0 143.1 L129.0 142.8 L130.0 142.6 L131.0 142.3 L132.0 142.0 L133.0 141.8 L134.0 141.5 L135.0 141.3 L136.0 141.1 L137.0 141.0 L138.0 141.1 L139.0 141.4 L140.0 141.7 L141.0 142.1 L142.0 142.6 L143.0 143.2 L144.0 143.7 L145.0 144.3 L146.0 144.9 L147.0 145.5 L148.0 146.2 L149.0 146.8 L150.0 147.3 L151.0 147.9 L152.0 148.4 L153.0 148.9 L154.0 149.4 L155.0 149.9 L156.0 150.4 L157.0 150.9 L158.0 151.4 L159.0 151.8 L160.0 152.1 L161.0 152.2 L162.0 152.3 L163.0 152.3 L164.0 152.3 L165.0 152.2 L166.0 152.0 L167.0 151.6 L168.0 150.9 L169.0 149.9 L170.0 148.6 L171.0 147.1 L172.0 145.6 L173.0 144.0 L174.0 142.2 L175.0 140.4 L176.0 138.6 L177.0 136.7 L178.0 134.8 L179.0 132.9 L180.0 131.0 L181.0 129.1 L182.0 127.2 L183.0 125.3 L184.0 123.3 L185.0 121.3 L186.0 119.2 L187.0 116.9 L188.0 114.5 L189.0 112.1 L190.0 109.6 L191.0 107.3 L192.0 104.9 L193.0 102.5 L194.0 100.2 L195.0 97.8 L196.0 95.5 L197.0 93.2 L198.0 90.9 L199.0 88.7 L200.0 86.4 L201.0 84.2 L202.0 82.0 L203.0 79.9 L204.0 77.7 L205.0 75.6 L206.0 73.4 L207.0 71.3 L208.0 69.1 L209.0 67.0 L210.0 64.9 L211.0 62.9 L212.0 61.0 L213.0 59.1 L214.0 57.2 L215.0 55.5 L216.0 53.7 L217.0 52.0 L218.0 50.5 L219.0 49.1 L220.0 47.8 L221.0 46.6 L222.0 45.5 L223.0 44.5 L224.0 43.5 L225.0 42.7 L226.0 41.9 L227.0 41.2 L228.0 40.6 L229.0 40.2 L230.0 39.8 L231.0 39.6 L232.0 39.5 L233.0 39.5 L234.0 39.6 L235.0 39.7 L236.0 39.9 L237.0 40.2 L238.0 40.6 L239.0 41.1 L240.0 41.7 L241.0 42.3 L242.0 43.0 L243.0 43.9 L244.0 45.0 L245.0 46.2 L246.0 47.5 L247.0 48.7 L248.0 49.9 L249.0 51.2 L250.0 52.4 L251.0 53.6 L252.0 54.8 L253.0 56.0 L254.0 57.2 L255.0 58.4 L256.0 59.6 L257.0 60.8 L258.0 62.0 L259.0 63.2 L260.0 64.4 L261.0 65.6 L262.0 66.8 L263.0 68.0 L264.0 69.2 L265.0 70.4 L266.0 71.6 L267.0 72.8 L268.0 74.0 L269.0 75.0 L270.0 75.9 L271.0 76.5 L272.0 77.1 L273.0 77.5 L274.0 78.0 L275.0 78.3 L276.0 78.7 L277.0 78.9 L278.0 79.2 L279.0 79.4 L280.0 79.7 L281.0 79.9 L282.0 80.2 L283.0 80.4 L284.0 80.6 L285.0 80.9 L286.0 81.1 L287.0 81.3 L288.0 81.6 L289.0 81.8 L290.0 82.0 L291.0 82.2 L292.0 82.4 L293.0 82.6 L294.0 82.8 L295.0 83.0 L296.0 83.2 L297.0 83.4 L298.0 83.6 L299.0 83.8 L300.0 84.0 L301.0 84.2 L302.0 84.4 L303.0 84.5 L304.0 84.7 L305.0 84.7 L306.0 84.8 L307.0 84.7 L308.0 84.7 L309.0 84.5 L310.0 84.4 L311.0 84.2 L312.0 84.0 L313.0 83.7 L314.0 83.5 L315.0 83.2 L316.0 82.8 L317.0 82.5 L318.0 82.1 L319.0 81.7 L320.0 81.2 L321.0 80.6 L322.0 80.0 L323.0 79.3 L324.0 78.5 L325.0 77.7 L326.0 76.9 L327.0 76.0 L327.8 75.2" stroke="#008000" stroke-width="1.5" fill="none" stroke-linejoin="round"/>
<path d="M41.0 181.6 L42.0 181.2 L43.0 180.7 L44.0 180.2 L45.0 179.7 L46.0 179.1 L47.0 178.5 L48.0 177.9 L49.0 177.3 L50.0 176.6 L51.0 175.9 L52.0 175.3 L53.0 174.6 L54.0 173.8 L55.0 173.0 L56.0 172.2 L57.0 171.4 L58.0 170.5 L59.0 169.7 L60.0 168.8 L61.0 168.0 L62.0 167.1 L63.0 166.3 L64.0 165.4 L65.0 164.6 L66.0 163.7 L67.0 162.9 L68.0 162.0 L69.0 161.1 L70.0 160.1 L71.0 159.1 L72.0 158.1 L73.0 157.0 L74.0 156.0 L75.0 155.0 L76.0 154.1 L77.0 153.2 L78.0 152.3 L79.0 151.4 L80.0 150.6 L81.0 149.8 L82.0 149.0 L83.0 148.3 L84.0 147.6 L85.0 147.0 L86.0 146.5 L87.0 146.0 L88.0 145.5 L89.0 145.0 L90.0 144.6 L91.0 144.3 L92.0 144.1 L93.0 143.9 L94.0 144.0 L95.0 144.2 L96.0 144.4 L97.0 144.7 L98.0 145.0 L99.0 145.4 L100.0 145.8 L101.0 146.3 L102.0 146.8 L103.0 147.3 L104.0 147.8 L105.0 148.3 L106.0 148.9 L107.0 149.4 L108.0 150.0 L109.0 150.6 L110.0 151.1 L111.0 151.7 L112.0 152.2 L113.0 152.8 L114.0 153.3 L115.0 153.8 L116.0 154.2 L117.0 154.7 L118.0 155.1 L119.0 155.6 L120.0 156.0 L121.0 156.4 L122.0 156.8 L123.0 157.2 L124.0 157.5 L125.0 157.9 L126.0 158.2 L127.0 158.6 L128.0 158.9 L129.0 159.2 L130.0 159.5 L131.0 159.8 L132.0 160.0 L133.0 160.3 L134.0 160.5 L135.0 160.6 L136.0 160.8 L137.0 160.9 L138.0 161.0 L139.0 161.0 L140.0 161.0 L141.0 161.0 L142.0 160.9 L143.0 160.9 L144.0 160.8 L145.0 160.7 L146.0 160.5 L147.0 160.4 L148.0 160.3 L149.0 160.1 L150.0 160.0 L151.0 159.9 L152.0 159.7 L153.0 159.5 L154.0 159.4 L155.0 159.2 L156.0 159.0 L157.0 158.8 L158.0 158.6 L159.0 158.3 L160.0 158.1 L161.0 157.9 L162.0 157.6 L163.0 157.4 L164.0 157.0 L165.0 156.6 L166.0 156.2 L167.0 155.6 L168.0 155.0 L169.0 154.3 L170.0 153.6 L171.0 152.8 L172.0 152.0 L173.0 151.1 L174.0 150.2 L175.0 149.2 L176.0 148.2 L177.0 147.2 L178.0 146.1 L179.0 145.0 L180.0 143.8 L181.0 142.6 L182.0 141.4 L183.0 140.1 L184.0 138.9 L185.0 137.6 L186.0 136.2 L187.0 134.9 L188.0 133.5 L189.0 132.0 L190.0 130.5 L191.0 128.9 L192.0 127.2 L193.0 125.7 L194.0 124.2 L195.0 122.8 L196.0 121.5 L197.0 120.1 L198.0 118.9 L199.0 117.6 L200.0 116.5 L201.0 115.3 L202.0 114.2 L203.0 113.2 L204.0 112.2 L205.0 111.3 L206.0 110.5 L207.0 109.9 L208.0 109.3 L209.0 108.7 L210.0 108.2 L211.0 107.6 L212.0 107.0 L213.0 106.4 L214.0 105.7 L215.0 105.1 L216.0 104.4 L217.0 103.8 L218.0 103.1 L219.0 102.4 L220.0 101.8 L221.0 101.1 L222.0 100.4 L223.0 99.7 L224.0 99.0 L225.0 98.3 L226.0 97.6 L227.0 97.0 L228.0 96.3 L229.0 95.6 L230.0 94.9 L231.0 94.2 L232.0 93.6 L233.0 92.9 L234.0 92.2 L235.0 91.6 L236.0 91.1 L237.0 90.6 L238.0 90.2 L239.0 89.9 L240.0 89.6 L241.0 89.3 L242.0 89.1 L243.0 89.0 L244.0 88.9 L245.0 89.0 L246.0 89.1 L247.0 89.2 L248.0 89.4 L249.0 89.6 L250.0 89.9 L251.0 90.2 L252.0 90.6 L253.0 91.0 L254.0 91.4 L255.0 91.8 L256.0 92.2 L257.0 92.7 L258.0 93.1 L259.0 93.6 L260.0 94.0 L261.0 94.4 L262.0 94.8 L263.0 95.2 L264.0 95.6 L265.0 96.0 L266.0 96.4 L267.0 96.7 L268.0 97.1 L269.0 97.5 L270.0 97.9 L271.0 98.2 L272.0 98.5 L273.0 98.8 L274.0 99.2 L275.0 99.5 L276.0 99.9 L277.0 100.3 L278.0 100.8 L279.0 101.4 L280.0 101.9 L281.0 102.5 L282.0 103.1 L283.0 103.7 L284.0 104.2 L285.0 104.8 L286.0 105.3 L287.0 105.7 L288.0 106.1 L289.0 106.5 L290.0 106.9 L291.0 107.2 L292.0 107.4 L293.0 107.7 L294.0 107.8 L295.0 107.9 L296.0 108.0 L297.0 108.0 L298.0 107.9 L299.0 107.8 L300.0 107.7 L301.0 107.4 L302.0 107.2 L303.0 106.9 L304.0 106.5 L305.0 106.2 L306.0 105.7 L307.0 105.3 L308.0 104.8 L309.0 104.3 L310.0 103.8 L311.0 103.3 L312.0 102.7 L313.0 102.2 L314.0 101.6 L315.0 101.0 L316.0 100.4 L317.0 99.8 L318.0 99.2 L319.0 98.5 L320.0 97.8 L321.0 97.2 L322.0 96.5 L323.0 95.8 L324.0 95.0 L325.0 94.3 L326.0 93.5 L327.0 92.7 L327.8 92.0" stroke="#ff0000" stroke-width="1.5" fill="none" stroke-linejoin="round"/>
<path d="M41.0 157.5 L42.0 157.0 L43.0 156.5 L44.0 156.0 L45.0 155.5 L46.0 155.0 L47.0 154.5 L48.0 154.0 L49.0 153.5 L50.0 153.0 L51.0 152.5 L52.0 151.9 L53.0 151.4 L54.0 150.9 L55.0 150.3 L56.0 149.8 L57.0 149.2 L58.0 148.5 L59.0 147.8 L60.0 146.9 L61.0 146.0 L62.0 145.0 L63.0 143.9 L64.0 142.9 L65.0 141.7 L66.0 140.6 L67.0 139.5 L68.0 138.4 L69.0 137.3 L70.0 136.3 L71.0 135.2 L72.0 134.1 L73.0 133.1 L74.0 132.0 L75.0 131.0 L76.0 130.0 L77.0 129.0 L78.0 128.0 L79.0 127.0 L80.0 126.2 L81.0 125.4 L82.0 124.6 L83.0 123.9 L84.0 123.3 L85.0 122.8 L86.0 122.3 L87.0 121.9 L88.0 121.5 L89.0 121.2 L90.0 120.9 L91.0 120.7 L92.0 120.5 L93.0 120.3 L94.0 120.2 L95.0 120.1 L96.0 120.0 L97.0 120.0 L98.0 119.9 L99.0 120.0 L100.0 120.1 L101.0 120.3 L102.0 120.5 L103.0 120.6 L104.0 120.7 L105.0 120.8 L106.0 120.8 L107.0 120.9 L108.0 121.1 L109.0 121.4 L110.0 122.0 L111.0 122.8 L112.0 123.7 L113.0 124.6 L114.0 125.6 L115.0 126.7 L116.0 127.8 L117.0 128.9 L118.0 130.1 L119.0 131.3 L120.0 132.4 L121.0 133.5 L122.0 134.5 L123.0 135.4 L124.0 136.4 L125.0 137.3 L126.0 138.2 L127.0 139.2 L128.0 140.1 L129.0 141.1 L130.0 141.9 L131.0 142.7 L132.0 143.4 L133.0 143.9 L134.0 144.4 L135.0 144.7 L136.0 145.0 L137.0 145.2 L138.0 145.4 L139.0 145.6 L140.0 145.8 L141.0 146.1 L142.0 146.3 L143.0 146.5 L144.0 146.7 L145.0 146.9 L146.0 147.1 L147.0 147.2 L148.0 147.2 L149.0 147.1 L150.0 146.9 L151.0 146.5 L152.0 146.0 L153.0 145.5 L154.0 144.9 L155.0 144.2 L156.0 143.4 L157.0 142.6 L158.0 141.7 L159.0 140.7 L160.0 139.6 L161.0 138.4 L162.0 137.2 L163.0 136.0 L164.0 134.7 L165.0 133.6 L166.0 132.5 L167.0 131.5 L168.0 130.5 L169.0 129.5 L170.0 128.5 L171.0 127.5 L172.0 126.5 L173.0 125.5 L174.0 124.5 L175.0 123.5 L176.0 122.4 L177.0 121.4 L178.0 120.4 L179.0 119.3 L180.0 118.2 L181.0 117.2 L182.0 116.0 L183.0 114.9 L184.0 113.7 L185.0 112.4 L186.0 111.0 L187.0 109.7 L188.0 108.3 L189.0 107.1 L190.0 105.8 L191.0 104.6 L192.0 103.4 L193.0 102.2 L194.0 101.0 L195.0 99.8 L196.0 98.6 L197.0 97.5 L198.0 96.4 L199.0 95.3 L200.0 94.3 L201.0 93.3 L202.0 92.3 L203.0 91.3 L204.0 90.3 L205.0 89.3 L206.0 88.3 L207.0 87.3 L208.0 86.4 L209.0 85.4 L210.0 84.5 L211.0 83.6 L212.0 82.8 L213.0 82.0 L214.0 81.3 L215.0 80.6 L216.0 80.0 L217.0 79.4 L218.0 78.8 L219.0 78.3 L220.0 77.7 L221.0 77.2 L222.0 76.7 L223.0 76.2 L224.0 75.7 L225.0 75.2 L226.0 74.7 L227.0 74.2 L228.0 73.7 L229.0 73.2 L230.0 72.8 L231.0 72.3 L232.0 71.8 L233.0 71.4 L234.0 71.0 L235.0 70.6 L236.0 70.2 L237.0 69.8 L238.0 69.4 L239.0 69.0 L240.0 68.7 L241.0 68.3 L242.0 68.0 L243.0 67.8 L244.0 67.6 L245.0 67.4 L246.0 67.2 L247.0 67.1 L248.0 66.9 L249.0 66.8 L250.0 66.7 L251.0 66.6 L252.0 66.6 L253.0 66.7 L254.0 66.9 L255.0 67.3 L256.0 67.8 L257.0 68.3 L258.0 68.9 L259.0 69.4 L260.0 69.9 L261.0 70.5 L262.0 71.0 L263.0 71.5 L264.0 72.1 L265.0 72.6 L266.0 73.1 L267.0 73.6 L268.0 74.1 L269.0 74.6 L270.0 75.1 L271.0 75.5 L272.0 75.9 L273.0 76.3 L274.0 76.6 L275.0 77.0 L276.0 77.4 L277.0 77.9 L278.0 78.3 L279.0 78.8 L280.0 79.2 L281.0 79.7 L282.0 80.1 L283.0 80.5 L284.0 80.9 L285.0 81.2 L286.0 81.5 L287.0 81.7 L288.0 81.9 L289.0 82.1 L290.0 82.3 L291.0 82.4 L292.0 82.6 L293.0 82.7 L294.0 82.9 L295.0 83.0 L296.0 83.0 L297.0 83.1 L298.0 83.1 L299.0 83.0 L300.0 83.0 L301.0 82.9 L302.0 82.8 L303.0 82.6 L304.0 82.3 L305.0 82.0 L306.0 81.7 L307.0 81.3 L308.0 80.8 L309.0 80.3 L310.0 79.7 L311.0 79.0 L312.0 78.3 L313.0 77.5 L314.0 76.7 L315.0 75.8 L316.0 74.9 L317.0 74.0 L318.0 73.0 L319.0 72.0 L320.0 71.0 L321.0 70.0 L322.0 69.0 L323.0 68.0 L324.0 66.9 L325.0 65.8 L326.0 64.8 L327.0 63.7 L327.8 62.8" stroke="#00bfbf" stroke-width="1.5" fill="none" stroke-linejoin="round"/>
<path d="M41.0 173.0 L42.0 173.2 L43.0 173.3 L44.0 173.3 L45.0 173.3 L46.0 173.2 L47.0 173.0 L48.0 172.8 L49.0 172.5 L50.0 172.2 L51.0 171.9 L52.0 171.5 L53.0 171.1 L54.0 170.6 L55.0 170.1 L56.0 169.5 L57.0 168.9 L58.0 168.2 L59.0 167.6 L60.0 167.0 L61.0 166.3 L62.0 165.7 L63.0 165.1 L64.0 164.4 L65.0 163.8 L66.0 163.2 L67.0 162.5 L68.0 161.9 L69.0 161.1 L70.0 160.1 L71.0 158.8 L72.0 157.5 L73.0 156.0 L74.0 154.6 L75.0 153.2 L76.0 151.8 L77.0 150.3 L78.0 148.9 L79.0 147.5 L80.0 146.0 L81.0 144.5 L82.0 143.0 L83.0 141.5 L84.0 140.0 L85.0 138.5 L86.0 137.0 L87.0 135.6 L88.0 134.5 L89.0 133.4 L90.0 132.5 L91.0 131.7 L92.0 131.0 L93.0 130.4 L94.0 129.9 L95.0 129.5 L96.0 129.1 L97.0 128.9 L98.0 128.7 L99.0 128.7 L100.0 128.9 L101.0 129.3 L102.0 129.7 L103.0 130.3 L104.0 130.9 L105.0 131.5 L106.0 132.3 L107.0 133.1 L108.0 134.0 L109.0 135.0 L110.0 136.1 L111.0 137.2 L112.0 138.4 L113.0 139.7 L114.0 141.0 L115.0 142.5 L116.0 144.3 L117.0 146.1 L118.0 147.8 L119.0 149.2 L120.0 150.6 L121.0 152.0 L122.0 153.3 L123.0 154.7 L124.0 156.0 L125.0 157.2 L126.0 158.5 L127.0 159.7 L128.0 160.8 L129.0 161.9 L130.0 163.0 L131.0 164.0 L132.0 165.0 L133.0 166.0 L134.0 166.9 L135.0 167.7 L136.0 168.5 L137.0 169.2 L138.0 169.7 L139.0 170.1 L140.0 170.5 L141.0 170.7 L142.0 170.9 L143.0 171.0 L144.0 171.0 L145.0 171.0 L146.0 170.9 L147.0 170.8 L148.0 170.6 L149.0 170.3 L150.0 170.0 L151.0 169.6 L152.0 169.2 L153.0 168.8 L154.0 168.3 L155.0 167.8 L156.0 167.1 L157.0 166.4 L158.0 165.6 L159.0 164.7 L160.0 163.7 L161.0 162.7 L162.0 161.6 L163.0 160.5 L164.0 159.4 L165.0 158.2 L166.0 157.0 L167.0 155.7 L168.0 154.3 L169.0 152.9 L170.0 151.4 L171.0 150.0 L172.0 148.6 L173.0 147.1 L174.0 145.7 L175.0 144.3 L176.0 142.9 L177.0 141.5 L178.0 140.0 L179.0 138.5 L180.0 136.9 L181.0 135.3 L182.0 133.7 L183.0 132.1 L184.0 130.5 L185.0 128.9 L186.0 127.3 L187.0 125.8 L188.0 124.2 L189.0 122.6 L190.0 121.0 L191.0 119.4 L192.0 117.9 L193.0 116.5 L194.0 115.1 L195.0 113.9 L196.0 112.9 L197.0 111.9 L198.0 111.1 L199.0 110.3 L200.0 109.6 L201.0 109.0 L202.0 108.3 L203.0 107.7 L204.0 107.1 L205.0 106.5 L206.0 105.9 L207.0 105.3 L208.0 104.7 L209.0 104.0 L210.0 103.4 L211.0 102.7 L212.0 102.1 L213.0 101.4 L214.0 100.7 L215.0 100.0 L216.0 99.4 L217.0 98.7 L218.0 98.1 L219.0 97.5 L220.0 96.9 L221.0 96.4 L222.0 95.8 L223.0 95.3 L224.0 94.6 L225.0 94.0 L226.0 93.3 L227.0 92.5 L228.0 91.8 L229.0 91.0 L230.0 90.3 L231.0 89.5 L232.0 88.7 L233.0 88.0 L234.0 87.3 L235.0 86.6 L236.0 85.9 L237.0 85.3 L238.0 84.6 L239.0 84.0 L240.0 83.4 L241.0 82.8 L242.0 82.3 L243.0 81.8 L244.0 81.5 L245.0 81.2 L246.0 81.0 L247.0 80.8 L248.0 80.6 L249.0 80.5 L250.0 80.4 L251.0 80.4 L252.0 80.4 L253.0 80.5 L254.0 80.7 L255.0 80.9 L256.0 81.1 L257.0 81.5 L258.0 81.8 L259.0 82.2 L260.0 82.7 L261.0 83.3 L262.0 84.0 L263.0 84.7 L264.0 85.5 L265.0 86.2 L266.0 87.0 L267.0 87.8 L268.0 88.5 L269.0 89.3 L270.0 90.0 L271.0 90.7 L272.0 91.5 L273.0 92.2 L274.0 93.0 L275.0 93.7 L276.0 94.5 L277.0 95.2 L278.0 96.0 L279.0 96.7 L280.0 97.5 L281.0 98.2 L282.0 99.0 L283.0 99.7 L284.0 100.5 L285.0 101.2 L286.0 101.9 L287.0 102.6 L288.0 103.1 L289.0 103.7 L290.0 104.1 L291.0 104.5 L292.0 104.9 L293.0 105.2 L294.0 105.5 L295.0 105.7 L296.0 105.9 L297.0 106.1 L298.0 106.2 L299.0 106.3 L300.0 106.3 L301.0 106.2 L302.0 106.0 L303.0 105.8 L304.0 105.5 L305.0 105.2 L306.0 104.8 L307.0 104.3 L308.0 103.8 L309.0 103.3 L310.0 102.7 L311.0 102.1 L312.0 101.5 L313.0 100.8 L314.0 100.1 L315.0 99.4 L316.0 98.6 L317.0 97.8 L318.0 97.0 L319.0 96.1 L320.0 95.2 L321.0 94.3 L322.0 93.3 L323.0 92.3 L324.0 91.3 L325.0 90.2 L326.0 89.1 L327.0 87.9 L327.8 87.0" stroke="#bf00bf" stroke-width="1.5" fill="none" stroke-linejoin="round"/>
<path d="M41.0 178.5 L42.0 178.5 L43.0 178.4 L44.0 178.2 L45.0 178.1 L46.0 177.8 L47.0 177.6 L48.0 177.3 L49.0 177.0 L50.0 176.7 L51.0 176.4 L52.0 176.0 L53.0 175.6 L54.0 175.1 L55.0 174.6 L56.0 174.0 L57.0 173.4 L58.0 172.7 L59.0 172.0 L60.0 171.3 L61.0 170.5 L62.0 169.8 L63.0 169.1 L64.0 168.4 L65.0 167.7 L66.0 167.1 L67.0 166.6 L68.0 166.0 L69.0 165.2 L70.0 164.3 L71.0 163.2 L72.0 162.0 L73.0 160.8 L74.0 159.5 L75.0 158.2 L76.0 156.8 L77.0 155.4 L78.0 154.0 L79.0 152.5 L80.0 151.0 L81.0 149.4 L82.0 147.7 L83.0 146.0 L84.0 144.3 L85.0 142.6 L86.0 141.0 L87.0 139.4 L88.0 137.9 L89.0 136.5 L90.0 135.2 L91.0 134.0 L92.0 133.0 L93.0 132.2 L94.0 131.6 L95.0 131.1 L96.0 130.8 L97.0 130.5 L98.0 130.3 L99.0 130.2 L100.0 130.2 L101.0 130.5 L102.0 130.9 L103.0 131.5 L104.0 132.1 L105.0 132.9 L106.0 133.7 L107.0 134.5 L108.0 135.5 L109.0 136.5 L110.0 137.8 L111.0 139.2 L112.0 140.7 L113.0 142.2 L114.0 143.6 L115.0 144.9 L116.0 146.3 L117.0 147.7 L118.0 149.0 L119.0 150.3 L120.0 151.5 L121.0 152.8 L122.0 154.0 L123.0 155.2 L124.0 156.4 L125.0 157.6 L126.0 158.8 L127.0 160.0 L128.0 161.1 L129.0 162.3 L130.0 163.5 L131.0 164.7 L132.0 165.9 L133.0 167.2 L134.0 168.4 L135.0 169.7 L136.0 170.9 L137.0 172.1 L138.0 173.0 L139.0 173.8 L140.0 174.5 L141.0 175.0 L142.0 175.4 L143.0 175.7 L144.0 175.9 L145.0 176.1 L146.0 176.2 L147.0 176.1 L148.0 175.9 L149.0 175.4 L150.0 174.8 L151.0 174.0 L152.0 173.2 L153.0 172.4 L154.0 171.5 L155.0 170.5 L156.0 169.5 L157.0 168.5 L158.0 167.6 L159.0 166.5 L160.0 165.5 L161.0 164.4 L162.0 163.3 L163.0 162.2 L164.0 161.1 L165.0 160.0 L166.0 158.9 L167.0 157.7 L168.0 156.6 L169.0 155.3 L170.0 154.0 L171.0 152.6 L172.0 151.1 L173.0 149.5 L174.0 147.9 L175.0 146.4 L176.0 144.8 L177.0 143.2 L178.0 141.5 L179.0 139.9 L180.0 138.4 L181.0 136.8 L182.0 135.3 L183.0 133.8 L184.0 132.3 L185.0 130.9 L186.0 129.5 L187.0 128.2 L188.0 126.9 L189.0 125.8 L190.0 124.6 L191.0 123.5 L192.0 122.4 L193.0 121.4 L194.0 120.3 L195.0 119.2 L196.0 118.1 L197.0 117.0 L198.0 116.0 L199.0 114.9 L200.0 113.9 L201.0 112.9 L202.0 111.9 L203.0 111.1 L204.0 110.3 L205.0 109.5 L206.0 108.8 L207.0 108.2 L208.0 107.5 L209.0 106.9 L210.0 106.3 L211.0 105.7 L212.0 105.1 L213.0 104.5 L214.0 103.9 L215.0 103.3 L216.0 102.7 L217.0 102.1 L218.0 101.5 L219.0 101.0 L220.0 100.4 L221.0 99.9 L222.0 99.3 L223.0 98.8 L224.0 98.1 L225.0 97.5 L226.0 96.8 L227.0 96.1 L228.0 95.3 L229.0 94.6 L230.0 93.9 L231.0 93.2 L232.0 92.4 L233.0 91.7 L234.0 91.0 L235.0 90.3 L236.0 89.6 L237.0 88.9 L238.0 88.2 L239.0 87.5 L240.0 86.8 L241.0 86.1 L242.0 85.5 L243.0 84.9 L244.0 84.5 L245.0 84.1 L246.0 83.8 L247.0 83.5 L248.0 83.2 L249.0 83.0 L250.0 82.9 L251.0 82.8 L252.0 82.8 L253.0 82.9 L254.0 83.0 L255.0 83.1 L256.0 83.3 L257.0 83.5 L258.0 83.8 L259.0 84.1 L260.0 84.6 L261.0 85.2 L262.0 85.9 L263.0 86.6 L264.0 87.3 L265.0 88.1 L266.0 88.8 L267.0 89.6 L268.0 90.4 L269.0 91.1 L270.0 91.9 L271.0 92.7 L272.0 93.4 L273.0 94.2 L274.0 95.0 L275.0 95.8 L276.0 96.6 L277.0 97.4 L278.0 98.2 L279.0 99.0 L280.0 99.8 L281.0 100.6 L282.0 101.4 L283.0 102.2 L284.0 103.0 L285.0 103.8 L286.0 104.6 L287.0 105.4 L288.0 106.1 L289.0 106.8 L290.0 107.4 L291.0 107.9 L292.0 108.4 L293.0 108.9 L294.0 109.3 L295.0 109.6 L296.0 109.9 L297.0 110.1 L298.0 110.3 L299.0 110.4 L300.0 110.4 L301.0 110.3 L302.0 110.1 L303.0 109.8 L304.0 109.5 L305.0 109.0 L306.0 108.6 L307.0 108.0 L308.0 107.4 L309.0 106.8 L310.0 106.1 L311.0 105.4 L312.0 104.6 L313.0 103.9 L314.0 103.1 L315.0 102.3 L316.0 101.4 L317.0 100.5 L318.0 99.6 L319.0 98.7 L320.0 97.7 L321.0 96.8 L322.0 95.7 L323.0 94.7 L324.0 93.6 L325.0 92.4 L326.0 91.2 L327.0 90.0 L327.8 89.0" stroke="#bfbf00" stroke-width="1.5" fill="none" stroke-linejoin="round"/>
<path d="M41.0 148.8 L42.0 148.8 L43.0 148.8 L44.0 148.7 L45.0 148.7 L46.0 148.7 L47.0 148.6 L48.0 148.6 L49.0 148.6 L50.0 148.5 L51.0 148.5 L52.0 148.4 L53.0 148.4 L54.0 148.3 L55.0 148.2 L56.0 148.2 L57.0 148.1 L58.0 148.0 L59.0 147.9 L60.0 147.8 L61.0 147.7 L62.0 147.6 L63.0 147.4 L64.0 147.3 L65.0 147.1 L66.0 146.9 L67.0 146.7 L68.0 146.5 L69.0 146.2 L70.0 146.0 L71.0 145.7 L72.0 145.4 L73.0 145.1 L74.0 144.8 L75.0 144.5 L76.0 144.2 L77.0 143.9 L78.0 143.7 L79.0 143.4 L80.0 143.1 L81.0 142.8 L82.0 142.5 L83.0 142.1 L84.0 141.7 L85.0 141.2 L86.0 140.7 L87.0 140.1 L88.0 139.5 L89.0 138.8 L90.0 138.0 L91.0 137.3 L92.0 136.5 L93.0 135.6 L94.0 134.8 L95.0 134.1 L96.0 133.3 L97.0 132.6 L98.0 131.8 L99.0 131.1 L100.0 130.3 L101.0 129.6 L102.0 128.9 L103.0 128.1 L104.0 127.4 L105.0 126.8 L106.0 126.1 L107.0 125.4 L108.0 124.7 L109.0 124.0 L110.0 123.2 L111.0 122.5 L112.0 121.8 L113.0 121.0 L114.0 120.3 L115.0 119.6 L116.0 118.8 L117.0 118.1 L118.0 117.4 L119.0 116.6 L120.0 115.9 L121.0 115.2 L122.0 114.5 L123.0 113.7 L124.0 113.0 L125.0 112.3 L126.0 111.6 L127.0 110.8 L128.0 110.1 L129.0 109.4 L130.0 108.7 L131.0 108.0 L132.0 107.3 L133.0 106.7 L134.0 106.0 L135.0 105.3 L136.0 104.7 L137.0 104.0 L138.0 103.4 L139.0 102.7 L140.0 102.1 L141.0 101.4 L142.0 100.8 L143.0 100.1 L144.0 99.4 L145.0 98.8 L146.0 98.1 L147.0 97.5 L148.0 96.8 L149.0 96.1 L150.0 95.5 L151.0 94.8 L152.0 94.2 L153.0 93.6 L154.0 92.9 L155.0 92.3 L156.0 91.7 L157.0 91.2 L158.0 90.7 L159.0 90.3 L160.0 89.9 L161.0 89.5 L162.0 89.1 L163.0 88.8 L164.0 88.5 L165.0 88.2 L166.0 88.0 L167.0 87.8 L168.0 87.6 L169.0 87.5 L170.0 87.5 L171.0 87.5 L172.0 87.5 L173.0 87.6 L174.0 87.7 L175.0 87.8 L176.0 88.0 L177.0 88.1 L178.0 88.3 L179.0 88.5 L180.0 88.8 L181.0 89.0 L182.0 89.3 L183.0 89.7 L184.0 90.0 L185.0 90.3 L186.0 90.7 L187.0 91.0 L188.0 91.3 L189.0 91.7 L190.0 92.0 L191.0 92.4 L192.0 92.7 L193.0 93.1 L194.0 93.4 L195.0 93.8 L196.0 94.1 L197.0 94.5 L198.0 94.8 L199.0 95.2 L200.0 95.6 L201.0 95.9 L202.0 96.3 L203.0 96.6 L204.0 97.0 L205.0 97.3 L206.0 97.6 L207.0 97.9 L208.0 98.1 L209.0 98.2 L210.0 98.3 L211.0 98.4 L212.0 98.4 L213.0 98.4 L214.0 98.3 L215.0 98.2 L216.0 98.0 L217.0 97.8 L218.0 97.5 L219.0 97.2 L220.0 96.8 L221.0 96.4 L222.0 96.0 L223.0 95.6 L224.0 95.1 L225.0 94.7 L226.0 94.2 L227.0 93.7 L228.0 93.3 L229.0 92.8 L230.0 92.3 L231.0 91.8 L232.0 91.3 L233.0 90.8 L234.0 90.3 L235.0 89.8 L236.0 89.3 L237.0 88.8 L238.0 88.3 L239.0 87.7 L240.0 87.1 L241.0 86.5 L242.0 85.8 L243.0 85.1 L244.0 84.4 L245.0 83.6 L246.0 82.8 L247.0 82.0 L248.0 81.2 L249.0 80.4 L250.0 79.6 L251.0 78.8 L252.0 77.9 L253.0 77.0 L254.0 76.1 L255.0 75.2 L256.0 74.4 L257.0 73.5 L258.0 72.7 L259.0 71.9 L260.0 71.1 L261.0 70.3 L262.0 69.5 L263.0 68.7 L264.0 68.0 L265.0 67.2 L266.0 66.4 L267.0 65.6 L268.0 64.9 L269.0 64.2 L270.0 63.5 L271.0 62.8 L272.0 62.1 L273.0 61.5 L274.0 60.8 L275.0 60.1 L276.0 59.4 L277.0 58.8 L278.0 58.1 L279.0 57.5 L280.0 56.9 L281.0 56.4 L282.0 55.8 L283.0 55.3 L284.0 54.7 L285.0 54.2 L286.0 53.7 L287.0 53.1 L288.0 52.6 L289.0 52.1 L290.0 51.6 L291.0 51.0 L292.0 50.5 L293.0 50.0 L294.0 49.5 L295.0 49.0 L296.0 48.5 L297.0 48.0 L298.0 47.6 L299.0 47.1 L300.0 46.7 L301.0 46.2 L302.0 45.8 L303.0 45.4 L304.0 45.0 L305.0 44.7 L306.0 44.4 L307.0 44.1 L308.0 43.8 L309.0 43.5 L310.0 43.3 L311.0 43.0 L312.0 42.8 L313.0 42.6 L314.0 42.4 L315.0 42.2 L316.0 42.0 L317.0 41.9 L318.0 41.7 L319.0 41.6 L320.0 41.4 L321.0 41.3 L322.0 41.2 L323.0 41.1 L324.0 41.0 L325.0 40.9 L326.0 40.8 L327.0 40.7 L327.8 40.7" stroke="#383838" stroke-width="1.5" fill="none" stroke-linejoin="round"/>
<path d="M41.0 164.2 L42.0 164.2 L43.0 164.3 L44.0 164.3 L45.0 164.3 L46.0 164.4 L47.0 164.4 L48.0 164.4 L49.0 164.4 L50.0 164.4 L51.0 164.4 L52.0 164.4 L53.0 164.3 L54.0 164.3 L55.0 164.3 L56.0 164.2 L57.0 164.1 L58.0 164.0 L59.0 163.9 L60.0 163.8 L61.0 163.7 L62.0 163.5 L63.0 163.4 L64.0 163.2 L65.0 163.1 L66.0 162.9 L67.0 162.8 L68.0 162.6 L69.0 162.5 L70.0 162.3 L71.0 162.2 L72.0 162.0 L73.0 161.9 L74.0 161.7 L75.0 161.6 L76.0 161.4 L77.0 161.3 L78.0 161.1 L79.0 161.0 L80.0 160.7 L81.0 160.5 L82.0 160.2 L83.0 159.7 L84.0 159.1 L85.0 158.4 L86.0 157.8 L87.0 157.2 L88.0 156.7 L89.0 156.2 L90.0 155.7 L91.0 155.1 L92.0 154.6 L93.0 154.0 L94.0 153.2 L95.0 152.5 L96.0 151.8 L97.0 151.3 L98.0 150.8 L99.0 150.3 L100.0 149.7 L101.0 148.9 L102.0 148.2 L103.0 147.4 L104.0 146.5 L105.0 145.5 L106.0 144.5 L107.0 143.4 L108.0 142.3 L109.0 141.1 L110.0 139.9 L111.0 138.7 L112.0 137.4 L113.0 136.1 L114.0 134.8 L115.0 133.6 L116.0 132.3 L117.0 131.0 L118.0 129.7 L119.0 128.5 L120.0 127.4 L121.0 126.3 L122.0 125.3 L123.0 124.3 L124.0 123.3 L125.0 122.3 L126.0 121.3 L127.0 120.4 L128.0 119.4 L129.0 118.5 L130.0 117.6 L131.0 116.8 L132.0 116.0 L133.0 115.2 L134.0 114.5 L135.0 113.9 L136.0 113.2 L137.0 112.6 L138.0 112.0 L139.0 111.4 L140.0 110.8 L141.0 110.2 L142.0 109.7 L143.0 109.3 L144.0 108.9 L145.0 108.6 L146.0 108.3 L147.0 108.1 L148.0 107.9 L149.0 107.7 L150.0 107.5 L151.0 107.3 L152.0 107.2 L153.0 107.0 L154.0 106.9 L155.0 106.7 L156.0 106.6 L157.0 106.5 L158.0 106.4 L159.0 106.4 L160.0 106.3 L161.0 106.3 L162.0 106.4 L163.0 106.5 L164.0 106.6 L165.0 106.8 L166.0 107.0 L167.0 107.2 L168.0 107.4 L169.0 107.6 L170.0 107.8 L171.0 108.1 L172.0 108.3 L173.0 108.5 L174.0 108.7 L175.0 108.9 L176.0 109.1 L177.0 109.3 L178.0 109.5 L179.0 109.7 L180.0 109.9 L181.0 110.1 L182.0 110.2 L183.0 110.4 L184.0 110.5 L185.0 110.7 L186.0 110.8 L187.0 110.9 L188.0 111.0 L189.0 111.0 L190.0 111.1 L191.0 111.1 L192.0 111.2 L193.0 111.2 L194.0 111.3 L195.0 111.3 L196.0 111.3 L197.0 111.4 L198.0 111.4 L199.0 111.4 L200.0 111.4 L201.0 111.3 L202.0 111.2 L203.0 111.1 L204.0 110.9 L205.0 110.8 L206.0 110.7 L207.0 110.5 L208.0 110.4 L209.0 110.3 L210.0 110.1 L211.0 110.0 L212.0 109.9 L213.0 109.7 L214.0 109.6 L215.0 109.4 L216.0 109.3 L217.0 109.1 L218.0 109.0 L219.0 108.9 L220.0 108.7 L221.0 108.6 L222.0 108.4 L223.0 108.3 L224.0 108.1 L225.0 108.0 L226.0 107.8 L227.0 107.7 L228.0 107.5 L229.0 107.4 L230.0 107.3 L231.0 107.1 L232.0 106.9 L233.0 106.8 L234.0 106.6 L235.0 106.4 L236.0 106.2 L237.0 106.0 L238.0 105.8 L239.0 105.6 L240.0 105.4 L241.0 105.2 L242.0 104.9 L243.0 104.6 L244.0 104.3 L245.0 103.9 L246.0 103.4 L247.0 102.9 L248.0 102.3 L249.0 101.7 L250.0 101.1 L251.0 100.5 L252.0 99.9 L253.0 99.2 L254.0 98.5 L255.0 97.8 L256.0 97.0 L257.0 96.2 L258.0 95.4 L259.0 94.5 L260.0 93.5 L261.0 92.5 L262.0 91.5 L263.0 90.5 L264.0 89.5 L265.0 88.4 L266.0 87.4 L267.0 86.4 L268.0 85.4 L269.0 84.4 L270.0 83.4 L271.0 82.4 L272.0 81.4 L273.0 80.4 L274.0 79.4 L275.0 78.4 L276.0 77.4 L277.0 76.4 L278.0 75.4 L279.0 74.3 L280.0 73.3 L281.0 72.2 L282.0 71.2 L283.0 70.1 L284.0 69.0 L285.0 68.0 L286.0 67.0 L287.0 66.0 L288.0 65.0 L289.0 64.0 L290.0 63.1 L291.0 62.3 L292.0 61.6 L293.0 61.0 L294.0 60.5 L295.0 60.1 L296.0 59.7 L297.0 59.4 L298.0 59.2 L299.0 59.0 L300.0 58.8 L301.0 58.7 L302.0 58.6 L303.0 58.5 L304.0 58.4 L305.0 58.3 L306.0 58.3 L307.0 58.2 L308.0 58.2 L309.0 58.2 L310.0 58.2 L311.0 58.2 L312.0 58.2 L313.0 58.3 L314.0 58.3 L315.0 58.3 L316.0 58.4 L317.0 58.5 L318.0 58.5 L319.0 58.6 L320.0 58.7 L321.0 58.8 L322.0 58.9 L323.0 59.0 L324.0 59.1 L325.0 59.2 L326.0 59.3 L327.0 59.5 L327.8 59.6" stroke="#0000ff" stroke-width="1.5" fill="none" stroke-linejoin="round"/>
<path d="M41.0 125.7 L42.0 125.7 L43.0 125.7 L44.0 125.7 L45.0 125.7 L46.0 125.7 L47.0 125.7 L48.0 125.7 L49.0 125.6 L50.0 125.6 L51.0 125.6 L52.0 125.5 L53.0 125.5 L54.0 125.4 L55.0 125.3 L56.0 125.2 L57.0 125.1 L58.0 125.0 L59.0 124.8 L60.0 124.6 L61.0 124.4 L62.0 124.1 L63.0 123.8 L64.0 123.4 L65.0 123.0 L66.0 122.6 L67.0 122.2 L68.0 121.7 L69.0 121.3 L70.0 120.9 L71.0 120.4 L72.0 120.0 L73.0 119.6 L74.0 119.1 L75.0 118.7 L76.0 118.3 L77.0 117.8 L78.0 117.4 L79.0 116.9 L80.0 116.5 L81.0 116.0 L82.0 115.5 L83.0 114.8 L84.0 114.2 L85.0 113.5 L86.0 112.8 L87.0 112.0 L88.0 111.1 L89.0 110.1 L90.0 109.2 L91.0 108.2 L92.0 107.1 L93.0 106.1 L94.0 105.1 L95.0 104.1 L96.0 103.1 L97.0 102.1 L98.0 101.1 L99.0 100.1 L100.0 99.2 L101.0 98.3 L102.0 97.4 L103.0 96.5 L104.0 95.6 L105.0 94.7 L106.0 93.8 L107.0 93.0 L108.0 92.2 L109.0 91.4 L110.0 90.7 L111.0 89.9 L112.0 89.2 L113.0 88.5 L114.0 87.9 L115.0 87.2 L116.0 86.6 L117.0 85.9 L118.0 85.4 L119.0 84.8 L120.0 84.3 L121.0 83.9 L122.0 83.5 L123.0 83.2 L124.0 83.0 L125.0 82.8 L126.0 82.5 L127.0 82.3 L128.0 82.2 L129.0 82.0 L130.0 81.8 L131.0 81.7 L132.0 81.5 L133.0 81.4 L134.0 81.2 L135.0 81.1 L136.0 81.0 L137.0 80.8 L138.0 80.7 L139.0 80.6 L140.0 80.5 L141.0 80.3 L142.0 80.2 L143.0 80.1 L144.0 79.9 L145.0 79.8 L146.0 79.6 L147.0 79.5 L148.0 79.3 L149.0 79.1 L150.0 78.9 L151.0 78.7 L152.0 78.5 L153.0 78.3 L154.0 78.0 L155.0 77.8 L156.0 77.5 L157.0 77.3 L158.0 77.0 L159.0 76.8 L160.0 76.5 L161.0 76.3 L162.0 76.1 L163.0 75.8 L164.0 75.6 L165.0 75.4 L166.0 75.2 L167.0 75.0 L168.0 74.8 L169.0 74.6 L170.0 74.5 L171.0 74.3 L172.0 74.1 L173.0 73.9 L174.0 73.8 L175.0 73.6 L176.0 73.4 L177.0 73.3 L178.0 73.1 L179.0 73.0 L180.0 72.8 L181.0 72.7 L182.0 72.6 L183.0 72.4 L184.0 72.3 L185.0 72.2 L186.0 72.1 L187.0 72.0 L188.0 71.9 L189.0 71.8 L190.0 71.7 L191.0 71.6 L192.0 71.5 L193.0 71.4 L194.0 71.3 L195.0 71.2 L196.0 71.1 L197.0 71.1 L198.0 71.0 L199.0 71.0 L200.0 70.9 L201.0 70.9 L202.0 70.9 L203.0 70.8 L204.0 70.8 L205.0 70.7 L206.0 70.7 L207.0 70.6 L208.0 70.6 L209.0 70.5 L210.0 70.4 L211.0 70.2 L212.0 70.1 L213.0 69.9 L214.0 69.8 L215.0 69.6 L216.0 69.4 L217.0 69.2 L218.0 69.0 L219.0 68.7 L220.0 68.5 L221.0 68.3 L222.0 68.0 L223.0 67.8 L224.0 67.5 L225.0 67.2 L226.0 66.9 L227.0 66.6 L228.0 66.3 L229.0 65.9 L230.0 65.5 L231.0 65.2 L232.0 64.7 L233.0 64.3 L234.0 63.8 L235.0 63.3 L236.0 62.8 L237.0 62.3 L238.0 61.7 L239.0 61.1 L240.0 60.6 L241.0 60.0 L242.0 59.4 L243.0 58.8 L244.0 58.2 L245.0 57.6 L246.0 57.0 L247.0 56.4 L248.0 55.8 L249.0 55.2 L250.0 54.6 L251.0 54.0 L252.0 53.4 L253.0 52.9 L254.0 52.4 L255.0 51.8 L256.0 51.3 L257.0 50.8 L258.0 50.3 L259.0 49.8 L260.0 49.3 L261.0 48.8 L262.0 48.4 L263.0 47.9 L264.0 47.4 L265.0 47.0 L266.0 46.6 L267.0 46.1 L268.0 45.7 L269.0 45.3 L270.0 44.8 L271.0 44.4 L272.0 44.0 L273.0 43.6 L274.0 43.2 L275.0 42.8 L276.0 42.4 L277.0 42.0 L278.0 41.6 L279.0 41.2 L280.0 40.8 L281.0 40.5 L282.0 40.1 L283.0 39.7 L284.0 39.3 L285.0 38.9 L286.0 38.5 L287.0 38.1 L288.0 37.7 L289.0 37.2 L290.0 36.8 L291.0 36.4 L292.0 35.9 L293.0 35.4 L294.0 35.0 L295.0 34.5 L296.0 34.0 L297.0 33.5 L298.0 33.0 L299.0 32.5 L300.0 32.0 L301.0 31.5 L302.0 30.9 L303.0 30.4 L304.0 29.8 L305.0 29.3 L306.0 28.7 L307.0 28.2 L308.0 27.6 L309.0 27.1 L310.0 26.5 L311.0 25.9 L312.0 25.3 L313.0 24.8 L314.0 24.2 L315.0 23.6 L316.0 23.0 L317.0 22.4 L318.0 21.8 L319.0 21.2 L320.0 20.7 L321.0 20.2 L322.0 19.6 L323.0 19.1 L324.0 18.6 L325.0 18.1 L326.0 17.6 L327.0 17.1 L327.8 16.7" stroke="#008000" stroke-width="1.5" fill="none" stroke-linejoin="round"/>
</g>
<g id="axes">
<line x1="40.8" y1="6.8" x2="40.8" y2="214.35" stroke="#000" stroke-width="1.1"/>
<line x1="40.25" y1="213.8" x2="328.3" y2="213.8" stroke="#000" stroke-width="1.1"/>
<line x1="40.8" y1="213.8" x2="40.8" y2="210.7" stroke="#000" stroke-width="1"/>
<text x="40.8" y="228.5" text-anchor="middle">0</text>
<line x1="112.5" y1="213.8" x2="112.5" y2="210.7" stroke="#000" stroke-width="1"/>
<text x="112.5" y="228.5" text-anchor="middle">2</text>
<line x1="184.2" y1="213.8" x2="184.2" y2="210.7" stroke="#000" stroke-width="1"/>
<text x="184.2" y="228.5" text-anchor="middle">4</text>
<line x1="255.9" y1="213.8" x2="255.9" y2="210.7" stroke="#000" stroke-width="1"/>
<text x="255.9" y="228.5" text-anchor="middle">6</text>
<line x1="327.6" y1="213.8" x2="327.6" y2="210.7" stroke="#000" stroke-width="1"/>
<text x="327.6" y="228.5" text-anchor="middle">8</text>
<line x1="40.8" y1="172.0" x2="43.9" y2="172.0" stroke="#000" stroke-width="1"/>
<text x="37" y="176.0" text-anchor="end">0.5</text>
<line x1="40.8" y1="130.7" x2="43.9" y2="130.7" stroke="#000" stroke-width="1"/>
<text x="37" y="134.7" text-anchor="end">1.0</text>
<line x1="40.8" y1="89.4" x2="43.9" y2="89.4" stroke="#000" stroke-width="1"/>
<text x="37" y="93.4" text-anchor="end">1.5</text>
<line x1="40.8" y1="48.1" x2="43.9" y2="48.1" stroke="#000" stroke-width="1"/>
<text x="37" y="52.1" text-anchor="end">2.0</text>
<line x1="40.8" y1="6.8" x2="43.9" y2="6.8" stroke="#000" stroke-width="1"/>
<text x="37" y="10.8" text-anchor="end">2.5</text>
<text transform="translate(185.4,247.3) scale(0.92,1)" text-anchor="middle" style="font-size:14.7px">Time (s)</text>
<text transform="translate(12.1,112.4) rotate(-90) scale(0.941,1)" text-anchor="middle" style="font-size:14.5px">Generator angles (rad)</text>
</g>
<g id="annot">
<ellipse cx="230.4" cy="40.4" rx="7.5" ry="19.6" stroke="#ff0000" stroke-dasharray="3.2 2.2" stroke-width="1.1" fill="none"/>
<line x1="102.1" y1="66.2" x2="111.8" y2="81.3" stroke="#000" stroke-width="1"/><polygon points="115.1,86.5 107.4,81.2 111.8,81.3 113.5,77.3" fill="#000" stroke="none"/>
<line x1="125.1" y1="58.0" x2="151.9" y2="100.6" stroke="#000" stroke-width="1"/><polygon points="155.2,105.8 147.6,100.4 151.9,100.6 153.7,96.6" fill="#000" stroke="none"/>
<line x1="151.0" y1="58.5" x2="164.0" y2="82.6" stroke="#000" stroke-width="1"/><polygon points="167.0,88.0 159.7,82.2 164.0,82.6 166.1,78.7" fill="#000" stroke="none"/>
<line x1="190.2" y1="33.0" x2="220.0" y2="70.5" stroke="#000" stroke-width="1"/><polygon points="223.9,75.3 215.7,70.8 220.0,70.5 221.4,66.3" fill="#000" stroke="none"/>
<line x1="182.9" y1="46.6" x2="219.7" y2="86.6" stroke="#000" stroke-width="1"/><polygon points="223.9,91.2 215.4,87.3 219.7,86.6 220.7,82.4" fill="#000" stroke="none"/>
<line x1="265.0" y1="24.5" x2="243.0" y2="28.7" stroke="#000" stroke-width="1"/><polygon points="236.9,29.9 244.7,24.7 243.0,28.7 246.0,31.8" fill="#000" stroke="none"/>
<line x1="251.6" y1="146.8" x2="251.8" y2="91.7" stroke="#000" stroke-width="1"/><polygon points="251.8,85.5 255.4,94.1 251.8,91.7 248.2,94.1" fill="#000" stroke="none"/>
<line x1="271.4" y1="150.3" x2="271.4" y2="105.0" stroke="#000" stroke-width="1"/><polygon points="271.4,98.8 275.0,107.3 271.4,105.0 267.8,107.3" fill="#000" stroke="none"/>
<line x1="213.1" y1="181.0" x2="191.0" y2="171.1" stroke="#000" stroke-width="1"/><polygon points="185.3,168.6 194.6,168.8 191.0,171.1 191.7,175.4" fill="#000" stroke="none"/>
<text transform="translate(81.8,63.1) scale(0.915,1)" style="font-size:14.2px">G16</text>
<text transform="translate(111.6,56.300000000000004) scale(0.915,1)" style="font-size:14.2px">G15</text>
<text transform="translate(139.2,55.5) scale(0.915,1)" style="font-size:14.2px">G14</text>
<text transform="translate(178,31.3) scale(0.915,1)" style="font-size:14.2px">G11</text>
<text transform="translate(162.6,46.2) scale(0.915,1)" style="font-size:14.2px">G12</text>
<text transform="translate(265.9,27.4) scale(0.915,1)" style="font-size:14.2px">G2-G9</text>
<text transform="translate(240.8,159.2) scale(0.915,1)" style="font-size:14.2px">G13</text>
<text transform="translate(269.5,162.7) scale(0.915,1)" style="font-size:14.2px">G10</text>
<text transform="translate(213.1,187.7) scale(0.915,1)" style="font-size:14.2px">G1</text>
</g>
</svg>
</body></html>
